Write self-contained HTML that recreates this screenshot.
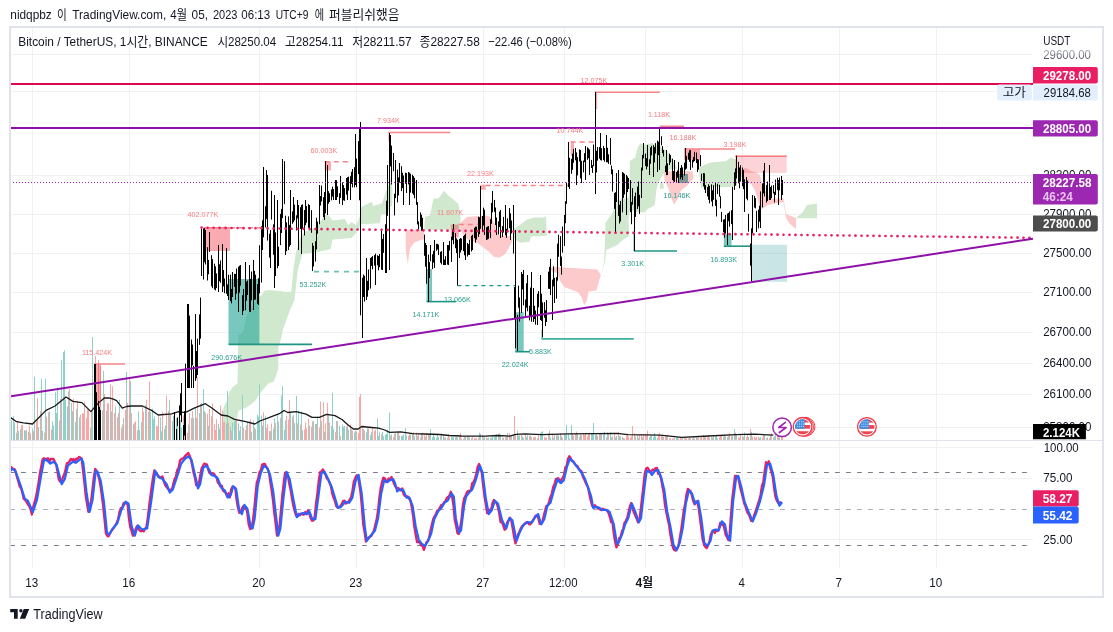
<!DOCTYPE html>
<html><head><meta charset="utf-8"><style>
html,body{margin:0;padding:0;background:#fff;width:1113px;height:632px;overflow:hidden}
svg{position:absolute;left:0;top:0;font-family:'Liberation Sans', 'Noto Sans CJK KR', sans-serif}
</style></head><body>
<svg width="1113" height="632" viewBox="0 0 1113 632">
<defs><clipPath id="mainclip"><rect x="11" y="28" width="1022" height="412"/></clipPath>
<clipPath id="oscclip"><rect x="11" y="441" width="1022" height="127"/></clipPath></defs>
<rect x="10" y="27" width="1093" height="570" fill="none" stroke="#e0e3eb" stroke-width="2"/>
<g clip-path="url(#mainclip)">
<rect x="32" y="28" width="1" height="541" fill="#eff1f3"/>
<rect x="129" y="28" width="1" height="541" fill="#eff1f3"/>
<rect x="259" y="28" width="1" height="541" fill="#eff1f3"/>
<rect x="356" y="28" width="1" height="541" fill="#eff1f3"/>
<rect x="483" y="28" width="1" height="541" fill="#eff1f3"/>
<rect x="564" y="28" width="1" height="541" fill="#eff1f3"/>
<rect x="645" y="28" width="1" height="541" fill="#eff1f3"/>
<rect x="742" y="28" width="1" height="541" fill="#eff1f3"/>
<rect x="839" y="28" width="1" height="541" fill="#eff1f3"/>
<rect x="936" y="28" width="1" height="541" fill="#eff1f3"/>
<rect x="11" y="54" width="1022" height="1" fill="#eff1f3"/>
<rect x="11" y="91" width="1022" height="1" fill="#eff1f3"/>
<rect x="11" y="128" width="1022" height="1" fill="#eff1f3"/>
<rect x="11" y="175" width="1022" height="1" fill="#eff1f3"/>
<rect x="11" y="214" width="1022" height="1" fill="#eff1f3"/>
<rect x="11" y="253" width="1022" height="1" fill="#eff1f3"/>
<rect x="11" y="292" width="1022" height="1" fill="#eff1f3"/>
<rect x="11" y="332" width="1022" height="1" fill="#eff1f3"/>
<rect x="11" y="363" width="1022" height="1" fill="#eff1f3"/>
<rect x="11" y="394" width="1022" height="1" fill="#eff1f3"/>
<rect x="11" y="427" width="1022" height="1" fill="#eff1f3"/>
<polygon points="224.0,440.0 223.3,429.3 222.4,418.7 223.3,408.0 226.8,401.0 229.5,392.0 233.0,386.7 237.5,383.2 238.4,335.0 243.0,332.0 246.0,317.0 255.0,302.0 259.0,297.0 262.0,295.0 264.0,291.0 269.0,290.0 280.0,291.0 285.0,291.7 291.3,291.7 293.7,266.4 296.0,252.2 300.8,236.4 305.6,231.6 316.6,226.9 324.5,215.8 327.7,214.2 332.4,220.6 345.0,219.0 348.2,225.3 351.4,222.1 356.1,225.3 360.1,215.8 360.9,207.9 362.0,206.6 368.8,203.2 372.0,202.1 373.2,206.0 382.0,203.2 385.4,193.3 388.8,185.0 391.0,177.0 392.5,190.0 392.0,205.0 386.5,214.3 381.0,214.3 380.0,223.2 360.0,224.3 359.3,228.5 354.6,234.8 351.4,238.0 332.4,239.5 330.8,249.0 316.6,252.2 302.4,253.8 297.6,271.0 294.5,300.0 290.0,310.0 285.0,324.0 282.7,330.0 281.0,338.9 278.3,347.7 278.3,369.0 273.8,381.4 268.5,383.2 259.6,393.8 255.2,401.0 250.8,404.5 245.5,408.0 238.4,410.7 236.6,422.2 234.0,429.3 231.3,436.4 229.5,442.0" fill="#cfe8ce"/>
<polygon points="405.7,229.8 424.2,229.8 424.2,239.5 421.4,239.8 414.2,242.6 410.0,248.3 407.8,264.0 405.7,250.0" fill="#fccaca"/>
<polygon points="424.2,229.8 425.0,217.0 430.0,215.6 433.5,198.5 438.4,198.5 444.0,190.7 448.4,195.7 454.0,200.0 458.4,204.2 460.5,215.6 460.5,229.8" fill="#cfe8ce"/>
<polygon points="460.5,222.7 467.0,217.0 476.9,216.3 485.4,215.6 491.0,217.0 494.0,222.7 499.6,235.5 511.0,236.2 512.0,240.0 511.7,242.6 505.3,254.0 499.6,257.6 494.0,256.9 488.3,251.2 482.6,247.0 476.9,242.6 468.3,239.8 462.6,234.0 460.5,229.8" fill="#fccaca"/>
<polygon points="513.7,229.0 515.4,227.9 520.7,224.4 527.6,219.2 534.6,217.4 543.0,217.4 546.0,216.5 546.8,235.7 531.0,236.6 529.4,241.8 520.7,242.7 515.4,240.0 513.7,236.0" fill="#cfe8ce"/>
<polygon points="550.3,268.0 556.0,267.0 597.3,269.6 600.8,274.9 596.4,290.5 588.6,291.4 586.8,301.0 584.2,305.3 581.6,297.5 578.1,292.3 564.2,287.0 560.7,281.8 557.2,273.0 552.0,271.4" fill="#fccaca"/>
<polygon points="601.0,275.0 604.0,262.0 604.7,250.0 605.5,222.8 612.7,213.0 615.8,200.6 629.0,197.5 630.0,161.0 635.2,157.5 637.9,146.9 640.5,143.3 644.0,145.0 652.0,143.0 660.0,146.0 668.0,152.0 677.0,168.5 666.0,170.0 661.0,178.0 658.3,182.3 656.5,189.4 654.7,205.3 647.6,208.9 644.0,212.4 637.0,212.0 630.0,210.0 628.5,219.6 629.3,235.4 620.6,241.8 617.4,245.0 606.3,250.0 605.0,262.0" fill="#cfe8ce"/>
<polygon points="660.0,182.7 663.0,181.0 664.0,188.4 660.0,189.0" fill="#cfe8ce"/>
<polygon points="664.0,171.3 670.0,171.3 692.8,171.3 693.5,178.4 688.5,184.0 685.6,187.0 681.4,189.8 677.0,199.8 674.2,204.8 671.4,198.4 668.5,188.4 664.5,180.0" fill="#fccaca"/>
<polygon points="699.0,168.0 705.6,164.2 711.3,162.5 717.0,162.0 722.7,161.5 726.0,161.0 731.0,157.5 737.0,160.0 737.0,185.6 731.2,187.0 717.0,187.0 707.0,187.7 701.3,187.7 699.5,180.0" fill="#cfe8ce"/>
<polygon points="737.0,172.7 739.8,171.3 745.5,167.7 751.2,171.3 756.9,172.7 759.7,175.0 763.0,187.5 768.0,195.0 770.0,198.5 783.5,198.5 786.0,214.0 796.0,218.0 796.0,229.0 790.0,224.0 786.0,218.0 783.5,202.0 768.0,205.0 762.0,209.0 759.7,207.0 755.4,191.3 751.2,184.0 745.5,181.0 737.0,172.7" fill="#fccaca"/>
<polygon points="796.0,218.0 803.0,212.0 807.0,205.0 817.0,203.5 817.0,218.3 796.0,218.3" fill="#cfe8ce"/>
<rect x="10" y="424.8" width="1" height="15.2" fill="#8fd0c8"/>
<rect x="11" y="420.2" width="1" height="19.8" fill="#8fd0c8"/>
<rect x="13" y="415.8" width="1" height="24.2" fill="#8fd0c8"/>
<rect x="14" y="422.4" width="1" height="17.6" fill="#8fd0c8"/>
<rect x="16" y="432.7" width="1" height="7.3" fill="#8fd0c8"/>
<rect x="17" y="420.9" width="1" height="19.1" fill="#f6a8a6"/>
<rect x="18" y="430.6" width="1" height="9.4" fill="#8fd0c8"/>
<rect x="20" y="429.0" width="1" height="11.0" fill="#8fd0c8"/>
<rect x="21" y="425.2" width="1" height="14.8" fill="#f6a8a6"/>
<rect x="22" y="424.9" width="1" height="15.1" fill="#f6a8a6"/>
<rect x="24" y="430.1" width="1" height="9.9" fill="#8fd0c8"/>
<rect x="25" y="430.6" width="1" height="9.4" fill="#8fd0c8"/>
<rect x="26" y="429.6" width="1" height="10.4" fill="#f6a8a6"/>
<rect x="28" y="431.6" width="1" height="8.4" fill="#8fd0c8"/>
<rect x="29" y="425.5" width="1" height="14.5" fill="#f6a8a6"/>
<rect x="30" y="433.3" width="1" height="6.7" fill="#f6a8a6"/>
<rect x="32" y="428.6" width="1" height="11.4" fill="#8fd0c8"/>
<rect x="33" y="431.2" width="1" height="8.8" fill="#f6a8a6"/>
<rect x="34" y="376.7" width="1" height="63.3" fill="#8fd0c8"/>
<rect x="36" y="419.2" width="1" height="20.8" fill="#f6a8a6"/>
<rect x="37" y="398.0" width="1" height="42.0" fill="#f6a8a6"/>
<rect x="38" y="427.2" width="1" height="12.8" fill="#8fd0c8"/>
<rect x="40" y="411.0" width="1" height="29.0" fill="#f6a8a6"/>
<rect x="41" y="378.7" width="1" height="61.3" fill="#8fd0c8"/>
<rect x="42" y="431.0" width="1" height="9.0" fill="#8fd0c8"/>
<rect x="44" y="432.6" width="1" height="7.4" fill="#f6a8a6"/>
<rect x="45" y="378.5" width="1" height="61.5" fill="#8fd0c8"/>
<rect x="46" y="416.5" width="1" height="23.5" fill="#f6a8a6"/>
<rect x="48" y="412.2" width="1" height="27.8" fill="#f6a8a6"/>
<rect x="49" y="411.3" width="1" height="28.7" fill="#8fd0c8"/>
<rect x="51" y="429.3" width="1" height="10.7" fill="#f6a8a6"/>
<rect x="52" y="421.3" width="1" height="18.7" fill="#8fd0c8"/>
<rect x="53" y="425.5" width="1" height="14.5" fill="#8fd0c8"/>
<rect x="55" y="392.3" width="1" height="47.7" fill="#8fd0c8"/>
<rect x="56" y="413.0" width="1" height="27.0" fill="#8fd0c8"/>
<rect x="57" y="387.5" width="1" height="52.5" fill="#8fd0c8"/>
<rect x="59" y="420.7" width="1" height="19.3" fill="#f6a8a6"/>
<rect x="60" y="398.8" width="1" height="41.2" fill="#f6a8a6"/>
<rect x="61" y="360.0" width="1" height="80.0" fill="#8fd0c8"/>
<rect x="63" y="352.0" width="1" height="88.0" fill="#8fd0c8"/>
<rect x="64" y="350.4" width="1" height="89.6" fill="#8fd0c8"/>
<rect x="65" y="399.5" width="1" height="40.5" fill="#8fd0c8"/>
<rect x="67" y="406.5" width="1" height="33.5" fill="#8fd0c8"/>
<rect x="68" y="391.4" width="1" height="48.6" fill="#8fd0c8"/>
<rect x="69" y="388.7" width="1" height="51.3" fill="#f6a8a6"/>
<rect x="71" y="402.9" width="1" height="37.1" fill="#8fd0c8"/>
<rect x="72" y="411.2" width="1" height="28.8" fill="#8fd0c8"/>
<rect x="73" y="398.7" width="1" height="41.3" fill="#f6a8a6"/>
<rect x="75" y="421.9" width="1" height="18.1" fill="#8fd0c8"/>
<rect x="76" y="408.8" width="1" height="31.2" fill="#8fd0c8"/>
<rect x="77" y="400.6" width="1" height="39.4" fill="#f6a8a6"/>
<rect x="79" y="417.3" width="1" height="22.7" fill="#8fd0c8"/>
<rect x="80" y="414.5" width="1" height="25.5" fill="#f6a8a6"/>
<rect x="82" y="412.9" width="1" height="27.1" fill="#f6a8a6"/>
<rect x="83" y="413.7" width="1" height="26.3" fill="#f6a8a6"/>
<rect x="84" y="401.9" width="1" height="38.1" fill="#f6a8a6"/>
<rect x="86" y="418.2" width="1" height="21.8" fill="#f6a8a6"/>
<rect x="87" y="409.2" width="1" height="30.8" fill="#f6a8a6"/>
<rect x="88" y="409.8" width="1" height="30.2" fill="#f6a8a6"/>
<rect x="90" y="427.9" width="1" height="12.1" fill="#8fd0c8"/>
<rect x="91" y="411.0" width="1" height="29.0" fill="#f6a8a6"/>
<rect x="92" y="337.0" width="1" height="103.0" fill="#8fd0c8"/>
<rect x="94" y="379.7" width="1" height="60.3" fill="#8fd0c8"/>
<rect x="95" y="356.0" width="1" height="84.0" fill="#f6a8a6"/>
<rect x="96" y="411.7" width="1" height="28.3" fill="#f6a8a6"/>
<rect x="98" y="360.0" width="1" height="80.0" fill="#f6a8a6"/>
<rect x="99" y="421.6" width="1" height="18.4" fill="#f6a8a6"/>
<rect x="100" y="366.0" width="1" height="74.0" fill="#f6a8a6"/>
<rect x="102" y="410.5" width="1" height="29.5" fill="#f6a8a6"/>
<rect x="103" y="370.8" width="1" height="69.2" fill="#8fd0c8"/>
<rect x="104" y="393.8" width="1" height="46.2" fill="#f6a8a6"/>
<rect x="106" y="411.0" width="1" height="29.0" fill="#8fd0c8"/>
<rect x="107" y="403.4" width="1" height="36.6" fill="#f6a8a6"/>
<rect x="108" y="403.2" width="1" height="36.8" fill="#f6a8a6"/>
<rect x="110" y="384.5" width="1" height="55.5" fill="#f6a8a6"/>
<rect x="111" y="411.4" width="1" height="28.6" fill="#8fd0c8"/>
<rect x="112" y="386.2" width="1" height="53.8" fill="#f6a8a6"/>
<rect x="114" y="413.0" width="1" height="27.0" fill="#f6a8a6"/>
<rect x="115" y="406.4" width="1" height="33.6" fill="#8fd0c8"/>
<rect x="117" y="417.2" width="1" height="22.8" fill="#f6a8a6"/>
<rect x="118" y="412.8" width="1" height="27.2" fill="#f6a8a6"/>
<rect x="119" y="399.8" width="1" height="40.2" fill="#8fd0c8"/>
<rect x="121" y="428.1" width="1" height="11.9" fill="#f6a8a6"/>
<rect x="122" y="424.5" width="1" height="15.5" fill="#f6a8a6"/>
<rect x="123" y="417.9" width="1" height="22.1" fill="#8fd0c8"/>
<rect x="125" y="410.0" width="1" height="30.0" fill="#f6a8a6"/>
<rect x="126" y="372.0" width="1" height="68.0" fill="#8fd0c8"/>
<rect x="127" y="402.9" width="1" height="37.1" fill="#f6a8a6"/>
<rect x="129" y="378.0" width="1" height="62.0" fill="#f6a8a6"/>
<rect x="130" y="381.0" width="1" height="59.0" fill="#8fd0c8"/>
<rect x="131" y="413.1" width="1" height="26.9" fill="#f6a8a6"/>
<rect x="133" y="424.3" width="1" height="15.7" fill="#8fd0c8"/>
<rect x="134" y="422.4" width="1" height="17.6" fill="#f6a8a6"/>
<rect x="135" y="421.5" width="1" height="18.5" fill="#f6a8a6"/>
<rect x="137" y="430.2" width="1" height="9.8" fill="#f6a8a6"/>
<rect x="138" y="411.3" width="1" height="28.7" fill="#8fd0c8"/>
<rect x="139" y="429.7" width="1" height="10.3" fill="#8fd0c8"/>
<rect x="141" y="422.3" width="1" height="17.7" fill="#8fd0c8"/>
<rect x="142" y="407.1" width="1" height="32.9" fill="#f6a8a6"/>
<rect x="143" y="411.7" width="1" height="28.3" fill="#f6a8a6"/>
<rect x="145" y="405.2" width="1" height="34.8" fill="#8fd0c8"/>
<rect x="146" y="399.7" width="1" height="40.3" fill="#f6a8a6"/>
<rect x="148" y="411.8" width="1" height="28.2" fill="#8fd0c8"/>
<rect x="149" y="381.3" width="1" height="58.7" fill="#f6a8a6"/>
<rect x="150" y="412.0" width="1" height="28.0" fill="#8fd0c8"/>
<rect x="152" y="408.6" width="1" height="31.4" fill="#8fd0c8"/>
<rect x="153" y="419.1" width="1" height="20.9" fill="#8fd0c8"/>
<rect x="154" y="416.3" width="1" height="23.7" fill="#8fd0c8"/>
<rect x="156" y="425.9" width="1" height="14.1" fill="#f6a8a6"/>
<rect x="157" y="426.3" width="1" height="13.7" fill="#f6a8a6"/>
<rect x="158" y="416.2" width="1" height="23.8" fill="#f6a8a6"/>
<rect x="160" y="417.4" width="1" height="22.6" fill="#8fd0c8"/>
<rect x="161" y="431.4" width="1" height="8.6" fill="#8fd0c8"/>
<rect x="162" y="411.6" width="1" height="28.4" fill="#f6a8a6"/>
<rect x="164" y="429.2" width="1" height="10.8" fill="#8fd0c8"/>
<rect x="165" y="425.5" width="1" height="14.5" fill="#8fd0c8"/>
<rect x="166" y="395.5" width="1" height="44.5" fill="#f6a8a6"/>
<rect x="168" y="411.0" width="1" height="29.0" fill="#f6a8a6"/>
<rect x="169" y="400.1" width="1" height="39.9" fill="#8fd0c8"/>
<rect x="170" y="413.3" width="1" height="26.7" fill="#f6a8a6"/>
<rect x="172" y="421.0" width="1" height="19.0" fill="#8fd0c8"/>
<rect x="173" y="415.7" width="1" height="24.3" fill="#8fd0c8"/>
<rect x="174" y="414.1" width="1" height="25.9" fill="#8fd0c8"/>
<rect x="176" y="417.8" width="1" height="22.2" fill="#8fd0c8"/>
<rect x="177" y="423.9" width="1" height="16.1" fill="#8fd0c8"/>
<rect x="179" y="419.0" width="1" height="21.0" fill="#8fd0c8"/>
<rect x="180" y="420.2" width="1" height="19.8" fill="#8fd0c8"/>
<rect x="181" y="427.5" width="1" height="12.5" fill="#8fd0c8"/>
<rect x="183" y="415.4" width="1" height="24.6" fill="#f6a8a6"/>
<rect x="184" y="426.1" width="1" height="13.9" fill="#f6a8a6"/>
<rect x="185" y="426.9" width="1" height="13.1" fill="#f6a8a6"/>
<rect x="187" y="432.8" width="1" height="7.2" fill="#f6a8a6"/>
<rect x="188" y="424.4" width="1" height="15.6" fill="#8fd0c8"/>
<rect x="189" y="413.2" width="1" height="26.8" fill="#f6a8a6"/>
<rect x="191" y="418.0" width="1" height="22.0" fill="#f6a8a6"/>
<rect x="192" y="411.1" width="1" height="28.9" fill="#f6a8a6"/>
<rect x="193" y="418.1" width="1" height="21.9" fill="#8fd0c8"/>
<rect x="195" y="408.3" width="1" height="31.7" fill="#8fd0c8"/>
<rect x="196" y="417.9" width="1" height="22.1" fill="#f6a8a6"/>
<rect x="197" y="377.2" width="1" height="62.8" fill="#f6a8a6"/>
<rect x="199" y="412.9" width="1" height="27.1" fill="#8fd0c8"/>
<rect x="200" y="404.1" width="1" height="35.9" fill="#f6a8a6"/>
<rect x="201" y="402.9" width="1" height="37.1" fill="#8fd0c8"/>
<rect x="203" y="389.0" width="1" height="51.0" fill="#8fd0c8"/>
<rect x="204" y="411.2" width="1" height="28.8" fill="#8fd0c8"/>
<rect x="205" y="412.5" width="1" height="27.5" fill="#f6a8a6"/>
<rect x="207" y="413.7" width="1" height="26.3" fill="#f6a8a6"/>
<rect x="208" y="425.8" width="1" height="14.2" fill="#8fd0c8"/>
<rect x="209" y="408.8" width="1" height="31.2" fill="#f6a8a6"/>
<rect x="211" y="416.3" width="1" height="23.7" fill="#f6a8a6"/>
<rect x="212" y="403.5" width="1" height="36.5" fill="#f6a8a6"/>
<rect x="214" y="424.0" width="1" height="16.0" fill="#f6a8a6"/>
<rect x="215" y="429.7" width="1" height="10.3" fill="#f6a8a6"/>
<rect x="216" y="419.2" width="1" height="20.8" fill="#f6a8a6"/>
<rect x="218" y="424.0" width="1" height="16.0" fill="#8fd0c8"/>
<rect x="219" y="428.7" width="1" height="11.3" fill="#8fd0c8"/>
<rect x="220" y="405.4" width="1" height="34.6" fill="#f6a8a6"/>
<rect x="222" y="410.6" width="1" height="29.4" fill="#f6a8a6"/>
<rect x="223" y="422.3" width="1" height="17.7" fill="#f6a8a6"/>
<rect x="224" y="421.8" width="1" height="18.2" fill="#f6a8a6"/>
<rect x="226" y="423.4" width="1" height="16.6" fill="#8fd0c8"/>
<rect x="227" y="391.0" width="1" height="49.0" fill="#8fd0c8"/>
<rect x="228" y="423.0" width="1" height="17.0" fill="#f6a8a6"/>
<rect x="230" y="426.9" width="1" height="13.1" fill="#8fd0c8"/>
<rect x="231" y="430.9" width="1" height="9.1" fill="#f6a8a6"/>
<rect x="232" y="422.6" width="1" height="17.4" fill="#8fd0c8"/>
<rect x="234" y="421.3" width="1" height="18.7" fill="#8fd0c8"/>
<rect x="235" y="420.6" width="1" height="19.4" fill="#8fd0c8"/>
<rect x="236" y="419.9" width="1" height="20.1" fill="#f6a8a6"/>
<rect x="238" y="423.4" width="1" height="16.6" fill="#8fd0c8"/>
<rect x="239" y="430.7" width="1" height="9.3" fill="#8fd0c8"/>
<rect x="240" y="426.3" width="1" height="13.7" fill="#8fd0c8"/>
<rect x="242" y="395.1" width="1" height="44.9" fill="#8fd0c8"/>
<rect x="243" y="427.7" width="1" height="12.3" fill="#f6a8a6"/>
<rect x="245" y="429.8" width="1" height="10.2" fill="#f6a8a6"/>
<rect x="246" y="425.0" width="1" height="15.0" fill="#f6a8a6"/>
<rect x="247" y="421.9" width="1" height="18.1" fill="#8fd0c8"/>
<rect x="249" y="421.0" width="1" height="19.0" fill="#f6a8a6"/>
<rect x="250" y="419.5" width="1" height="20.5" fill="#f6a8a6"/>
<rect x="251" y="431.7" width="1" height="8.3" fill="#8fd0c8"/>
<rect x="253" y="420.5" width="1" height="19.5" fill="#8fd0c8"/>
<rect x="254" y="427.9" width="1" height="12.1" fill="#8fd0c8"/>
<rect x="255" y="428.9" width="1" height="11.1" fill="#f6a8a6"/>
<rect x="257" y="414.5" width="1" height="25.5" fill="#8fd0c8"/>
<rect x="258" y="416.7" width="1" height="23.3" fill="#8fd0c8"/>
<rect x="259" y="384.6" width="1" height="55.4" fill="#8fd0c8"/>
<rect x="261" y="415.6" width="1" height="24.4" fill="#8fd0c8"/>
<rect x="262" y="425.4" width="1" height="14.6" fill="#8fd0c8"/>
<rect x="263" y="412.3" width="1" height="27.7" fill="#f6a8a6"/>
<rect x="265" y="415.7" width="1" height="24.3" fill="#8fd0c8"/>
<rect x="266" y="427.8" width="1" height="12.2" fill="#f6a8a6"/>
<rect x="267" y="424.1" width="1" height="15.9" fill="#f6a8a6"/>
<rect x="269" y="430.9" width="1" height="9.1" fill="#f6a8a6"/>
<rect x="270" y="431.1" width="1" height="8.9" fill="#8fd0c8"/>
<rect x="271" y="423.5" width="1" height="16.5" fill="#f6a8a6"/>
<rect x="273" y="428.5" width="1" height="11.5" fill="#8fd0c8"/>
<rect x="274" y="418.2" width="1" height="21.8" fill="#8fd0c8"/>
<rect x="275" y="423.2" width="1" height="16.8" fill="#f6a8a6"/>
<rect x="277" y="414.4" width="1" height="25.6" fill="#8fd0c8"/>
<rect x="278" y="421.7" width="1" height="18.3" fill="#8fd0c8"/>
<rect x="280" y="417.9" width="1" height="22.1" fill="#f6a8a6"/>
<rect x="281" y="395.5" width="1" height="44.5" fill="#8fd0c8"/>
<rect x="282" y="386.3" width="1" height="53.7" fill="#8fd0c8"/>
<rect x="284" y="429.8" width="1" height="10.2" fill="#8fd0c8"/>
<rect x="285" y="420.4" width="1" height="19.6" fill="#8fd0c8"/>
<rect x="286" y="415.7" width="1" height="24.3" fill="#f6a8a6"/>
<rect x="288" y="419.6" width="1" height="20.4" fill="#f6a8a6"/>
<rect x="289" y="400.0" width="1" height="40.0" fill="#f6a8a6"/>
<rect x="290" y="412.3" width="1" height="27.7" fill="#8fd0c8"/>
<rect x="292" y="416.7" width="1" height="23.3" fill="#f6a8a6"/>
<rect x="293" y="415.1" width="1" height="24.9" fill="#8fd0c8"/>
<rect x="294" y="423.1" width="1" height="16.9" fill="#8fd0c8"/>
<rect x="296" y="395.9" width="1" height="44.1" fill="#8fd0c8"/>
<rect x="297" y="423.3" width="1" height="16.7" fill="#f6a8a6"/>
<rect x="298" y="410.6" width="1" height="29.4" fill="#8fd0c8"/>
<rect x="300" y="424.6" width="1" height="15.4" fill="#f6a8a6"/>
<rect x="301" y="411.3" width="1" height="28.7" fill="#8fd0c8"/>
<rect x="302" y="430.2" width="1" height="9.8" fill="#8fd0c8"/>
<rect x="304" y="429.3" width="1" height="10.7" fill="#f6a8a6"/>
<rect x="305" y="422.3" width="1" height="17.7" fill="#f6a8a6"/>
<rect x="306" y="428.4" width="1" height="11.6" fill="#f6a8a6"/>
<rect x="308" y="418.9" width="1" height="21.1" fill="#f6a8a6"/>
<rect x="309" y="425.5" width="1" height="14.5" fill="#8fd0c8"/>
<rect x="311" y="426.7" width="1" height="13.3" fill="#f6a8a6"/>
<rect x="312" y="421.1" width="1" height="18.9" fill="#f6a8a6"/>
<rect x="313" y="421.4" width="1" height="18.6" fill="#8fd0c8"/>
<rect x="315" y="424.0" width="1" height="16.0" fill="#8fd0c8"/>
<rect x="316" y="423.8" width="1" height="16.2" fill="#f6a8a6"/>
<rect x="317" y="416.4" width="1" height="23.6" fill="#8fd0c8"/>
<rect x="319" y="427.6" width="1" height="12.4" fill="#f6a8a6"/>
<rect x="320" y="401.5" width="1" height="38.5" fill="#f6a8a6"/>
<rect x="321" y="421.2" width="1" height="18.8" fill="#8fd0c8"/>
<rect x="323" y="402.0" width="1" height="38.0" fill="#f6a8a6"/>
<rect x="324" y="431.7" width="1" height="8.3" fill="#8fd0c8"/>
<rect x="325" y="423.3" width="1" height="16.7" fill="#f6a8a6"/>
<rect x="327" y="403.0" width="1" height="37.0" fill="#f6a8a6"/>
<rect x="328" y="413.6" width="1" height="26.4" fill="#8fd0c8"/>
<rect x="329" y="422.5" width="1" height="17.5" fill="#f6a8a6"/>
<rect x="331" y="425.9" width="1" height="14.1" fill="#8fd0c8"/>
<rect x="332" y="392.8" width="1" height="47.2" fill="#8fd0c8"/>
<rect x="333" y="428.9" width="1" height="11.1" fill="#8fd0c8"/>
<rect x="335" y="432.2" width="1" height="7.8" fill="#f6a8a6"/>
<rect x="336" y="420.9" width="1" height="19.1" fill="#8fd0c8"/>
<rect x="337" y="421.1" width="1" height="18.9" fill="#f6a8a6"/>
<rect x="339" y="425.8" width="1" height="14.2" fill="#8fd0c8"/>
<rect x="340" y="436.0" width="1" height="4.0" fill="#f6a8a6"/>
<rect x="342" y="424.7" width="1" height="15.3" fill="#8fd0c8"/>
<rect x="343" y="426.8" width="1" height="13.2" fill="#8fd0c8"/>
<rect x="344" y="426.0" width="1" height="14.0" fill="#8fd0c8"/>
<rect x="346" y="426.8" width="1" height="13.2" fill="#8fd0c8"/>
<rect x="347" y="424.5" width="1" height="15.5" fill="#f6a8a6"/>
<rect x="348" y="429.6" width="1" height="10.4" fill="#8fd0c8"/>
<rect x="350" y="424.3" width="1" height="15.7" fill="#f6a8a6"/>
<rect x="351" y="429.1" width="1" height="10.9" fill="#8fd0c8"/>
<rect x="352" y="430.6" width="1" height="9.4" fill="#f6a8a6"/>
<rect x="354" y="432.3" width="1" height="7.7" fill="#8fd0c8"/>
<rect x="355" y="430.6" width="1" height="9.4" fill="#8fd0c8"/>
<rect x="356" y="431.6" width="1" height="8.4" fill="#f6a8a6"/>
<rect x="358" y="433.1" width="1" height="6.9" fill="#f6a8a6"/>
<rect x="359" y="396.7" width="1" height="43.3" fill="#f6a8a6"/>
<rect x="360" y="394.0" width="1" height="46.0" fill="#f6a8a6"/>
<rect x="362" y="426.6" width="1" height="13.4" fill="#f6a8a6"/>
<rect x="363" y="429.2" width="1" height="10.8" fill="#8fd0c8"/>
<rect x="364" y="430.5" width="1" height="9.5" fill="#f6a8a6"/>
<rect x="366" y="432.3" width="1" height="7.7" fill="#8fd0c8"/>
<rect x="367" y="428.3" width="1" height="11.7" fill="#8fd0c8"/>
<rect x="368" y="428.3" width="1" height="11.7" fill="#f6a8a6"/>
<rect x="370" y="435.0" width="1" height="5.0" fill="#8fd0c8"/>
<rect x="371" y="432.1" width="1" height="7.9" fill="#8fd0c8"/>
<rect x="372" y="427.1" width="1" height="12.9" fill="#f6a8a6"/>
<rect x="374" y="430.9" width="1" height="9.1" fill="#f6a8a6"/>
<rect x="375" y="429.6" width="1" height="10.4" fill="#f6a8a6"/>
<rect x="377" y="418.5" width="1" height="21.5" fill="#8fd0c8"/>
<rect x="378" y="436.0" width="1" height="4.0" fill="#8fd0c8"/>
<rect x="379" y="432.3" width="1" height="7.7" fill="#8fd0c8"/>
<rect x="381" y="434.5" width="1" height="5.5" fill="#f6a8a6"/>
<rect x="382" y="432.0" width="1" height="8.0" fill="#8fd0c8"/>
<rect x="383" y="436.4" width="1" height="3.6" fill="#8fd0c8"/>
<rect x="385" y="434.8" width="1" height="5.2" fill="#8fd0c8"/>
<rect x="386" y="434.0" width="1" height="6.0" fill="#8fd0c8"/>
<rect x="387" y="429.5" width="1" height="10.5" fill="#8fd0c8"/>
<rect x="389" y="412.5" width="1" height="27.5" fill="#8fd0c8"/>
<rect x="390" y="435.7" width="1" height="4.3" fill="#f6a8a6"/>
<rect x="391" y="434.3" width="1" height="5.7" fill="#8fd0c8"/>
<rect x="393" y="437.2" width="1" height="2.8" fill="#f6a8a6"/>
<rect x="394" y="433.5" width="1" height="6.5" fill="#8fd0c8"/>
<rect x="395" y="432.9" width="1" height="7.1" fill="#f6a8a6"/>
<rect x="397" y="433.0" width="1" height="7.0" fill="#8fd0c8"/>
<rect x="398" y="432.1" width="1" height="7.9" fill="#f6a8a6"/>
<rect x="399" y="435.7" width="1" height="4.3" fill="#8fd0c8"/>
<rect x="401" y="436.2" width="1" height="3.8" fill="#8fd0c8"/>
<rect x="402" y="435.7" width="1" height="4.3" fill="#8fd0c8"/>
<rect x="403" y="434.4" width="1" height="5.6" fill="#8fd0c8"/>
<rect x="405" y="428.1" width="1" height="11.9" fill="#8fd0c8"/>
<rect x="406" y="435.2" width="1" height="4.8" fill="#8fd0c8"/>
<rect x="408" y="435.8" width="1" height="4.2" fill="#f6a8a6"/>
<rect x="409" y="433.9" width="1" height="6.1" fill="#f6a8a6"/>
<rect x="410" y="434.6" width="1" height="5.4" fill="#8fd0c8"/>
<rect x="412" y="433.3" width="1" height="6.7" fill="#8fd0c8"/>
<rect x="413" y="432.0" width="1" height="8.0" fill="#f6a8a6"/>
<rect x="414" y="436.1" width="1" height="3.9" fill="#8fd0c8"/>
<rect x="416" y="432.5" width="1" height="7.5" fill="#f6a8a6"/>
<rect x="417" y="436.1" width="1" height="3.9" fill="#8fd0c8"/>
<rect x="418" y="433.0" width="1" height="7.0" fill="#f6a8a6"/>
<rect x="420" y="437.6" width="1" height="2.4" fill="#f6a8a6"/>
<rect x="421" y="433.6" width="1" height="6.4" fill="#8fd0c8"/>
<rect x="422" y="432.5" width="1" height="7.5" fill="#f6a8a6"/>
<rect x="424" y="435.3" width="1" height="4.7" fill="#f6a8a6"/>
<rect x="425" y="436.8" width="1" height="3.2" fill="#8fd0c8"/>
<rect x="426" y="433.8" width="1" height="6.2" fill="#f6a8a6"/>
<rect x="428" y="433.7" width="1" height="6.3" fill="#f6a8a6"/>
<rect x="429" y="434.2" width="1" height="5.8" fill="#8fd0c8"/>
<rect x="430" y="429.0" width="1" height="11.0" fill="#8fd0c8"/>
<rect x="432" y="437.1" width="1" height="2.9" fill="#8fd0c8"/>
<rect x="433" y="433.3" width="1" height="6.7" fill="#8fd0c8"/>
<rect x="434" y="436.9" width="1" height="3.1" fill="#8fd0c8"/>
<rect x="436" y="437.8" width="1" height="2.2" fill="#8fd0c8"/>
<rect x="437" y="433.6" width="1" height="6.4" fill="#8fd0c8"/>
<rect x="438" y="437.2" width="1" height="2.8" fill="#8fd0c8"/>
<rect x="440" y="436.1" width="1" height="3.9" fill="#f6a8a6"/>
<rect x="441" y="433.5" width="1" height="6.5" fill="#8fd0c8"/>
<rect x="443" y="435.6" width="1" height="4.4" fill="#8fd0c8"/>
<rect x="444" y="437.5" width="1" height="2.5" fill="#8fd0c8"/>
<rect x="445" y="437.3" width="1" height="2.7" fill="#f6a8a6"/>
<rect x="447" y="437.9" width="1" height="2.1" fill="#8fd0c8"/>
<rect x="448" y="434.4" width="1" height="5.6" fill="#f6a8a6"/>
<rect x="449" y="437.5" width="1" height="2.5" fill="#f6a8a6"/>
<rect x="451" y="436.6" width="1" height="3.4" fill="#8fd0c8"/>
<rect x="452" y="437.3" width="1" height="2.7" fill="#8fd0c8"/>
<rect x="453" y="436.7" width="1" height="3.3" fill="#8fd0c8"/>
<rect x="455" y="437.2" width="1" height="2.8" fill="#8fd0c8"/>
<rect x="456" y="436.9" width="1" height="3.1" fill="#f6a8a6"/>
<rect x="457" y="437.3" width="1" height="2.7" fill="#8fd0c8"/>
<rect x="459" y="437.0" width="1" height="3.0" fill="#8fd0c8"/>
<rect x="460" y="433.1" width="1" height="6.9" fill="#f6a8a6"/>
<rect x="461" y="438.5" width="1" height="1.5" fill="#f6a8a6"/>
<rect x="463" y="438.5" width="1" height="1.5" fill="#8fd0c8"/>
<rect x="464" y="436.9" width="1" height="3.1" fill="#f6a8a6"/>
<rect x="465" y="435.9" width="1" height="4.1" fill="#8fd0c8"/>
<rect x="467" y="436.6" width="1" height="3.4" fill="#8fd0c8"/>
<rect x="468" y="436.8" width="1" height="3.2" fill="#f6a8a6"/>
<rect x="469" y="437.6" width="1" height="2.4" fill="#8fd0c8"/>
<rect x="471" y="438.0" width="1" height="2.0" fill="#8fd0c8"/>
<rect x="472" y="437.1" width="1" height="2.9" fill="#f6a8a6"/>
<rect x="474" y="438.0" width="1" height="2.0" fill="#f6a8a6"/>
<rect x="475" y="438.5" width="1" height="1.5" fill="#f6a8a6"/>
<rect x="476" y="437.8" width="1" height="2.2" fill="#f6a8a6"/>
<rect x="478" y="437.8" width="1" height="2.2" fill="#f6a8a6"/>
<rect x="479" y="432.7" width="1" height="7.3" fill="#8fd0c8"/>
<rect x="480" y="433.9" width="1" height="6.1" fill="#8fd0c8"/>
<rect x="482" y="435.2" width="1" height="4.8" fill="#f6a8a6"/>
<rect x="483" y="437.3" width="1" height="2.7" fill="#8fd0c8"/>
<rect x="484" y="437.2" width="1" height="2.8" fill="#8fd0c8"/>
<rect x="486" y="437.5" width="1" height="2.5" fill="#f6a8a6"/>
<rect x="487" y="438.3" width="1" height="1.7" fill="#8fd0c8"/>
<rect x="488" y="437.8" width="1" height="2.2" fill="#8fd0c8"/>
<rect x="490" y="437.8" width="1" height="2.2" fill="#f6a8a6"/>
<rect x="491" y="437.7" width="1" height="2.3" fill="#8fd0c8"/>
<rect x="492" y="436.3" width="1" height="3.7" fill="#8fd0c8"/>
<rect x="494" y="437.0" width="1" height="3.0" fill="#8fd0c8"/>
<rect x="495" y="436.5" width="1" height="3.5" fill="#8fd0c8"/>
<rect x="496" y="434.5" width="1" height="5.5" fill="#8fd0c8"/>
<rect x="498" y="433.8" width="1" height="6.2" fill="#8fd0c8"/>
<rect x="499" y="433.4" width="1" height="6.6" fill="#f6a8a6"/>
<rect x="500" y="434.8" width="1" height="5.2" fill="#8fd0c8"/>
<rect x="502" y="437.6" width="1" height="2.4" fill="#f6a8a6"/>
<rect x="503" y="437.8" width="1" height="2.2" fill="#8fd0c8"/>
<rect x="505" y="437.4" width="1" height="2.6" fill="#f6a8a6"/>
<rect x="506" y="437.0" width="1" height="3.0" fill="#f6a8a6"/>
<rect x="507" y="433.1" width="1" height="6.9" fill="#8fd0c8"/>
<rect x="509" y="433.1" width="1" height="6.9" fill="#f6a8a6"/>
<rect x="510" y="436.3" width="1" height="3.7" fill="#8fd0c8"/>
<rect x="511" y="436.2" width="1" height="3.8" fill="#f6a8a6"/>
<rect x="513" y="434.1" width="1" height="5.9" fill="#8fd0c8"/>
<rect x="514" y="416.0" width="1" height="24.0" fill="#f6a8a6"/>
<rect x="515" y="434.4" width="1" height="5.6" fill="#f6a8a6"/>
<rect x="517" y="430.8" width="1" height="9.2" fill="#8fd0c8"/>
<rect x="518" y="435.6" width="1" height="4.4" fill="#8fd0c8"/>
<rect x="519" y="435.5" width="1" height="4.5" fill="#8fd0c8"/>
<rect x="521" y="434.7" width="1" height="5.3" fill="#f6a8a6"/>
<rect x="522" y="436.6" width="1" height="3.4" fill="#8fd0c8"/>
<rect x="523" y="437.8" width="1" height="2.2" fill="#8fd0c8"/>
<rect x="525" y="434.9" width="1" height="5.1" fill="#f6a8a6"/>
<rect x="526" y="437.2" width="1" height="2.8" fill="#8fd0c8"/>
<rect x="527" y="435.3" width="1" height="4.7" fill="#8fd0c8"/>
<rect x="529" y="435.8" width="1" height="4.2" fill="#f6a8a6"/>
<rect x="530" y="435.6" width="1" height="4.4" fill="#8fd0c8"/>
<rect x="531" y="437.0" width="1" height="3.0" fill="#f6a8a6"/>
<rect x="533" y="437.2" width="1" height="2.8" fill="#f6a8a6"/>
<rect x="534" y="437.3" width="1" height="2.7" fill="#f6a8a6"/>
<rect x="535" y="436.8" width="1" height="3.2" fill="#f6a8a6"/>
<rect x="537" y="438.0" width="1" height="2.0" fill="#8fd0c8"/>
<rect x="538" y="435.4" width="1" height="4.6" fill="#f6a8a6"/>
<rect x="540" y="433.1" width="1" height="6.9" fill="#8fd0c8"/>
<rect x="541" y="431.9" width="1" height="8.1" fill="#8fd0c8"/>
<rect x="542" y="431.3" width="1" height="8.7" fill="#8fd0c8"/>
<rect x="544" y="436.7" width="1" height="3.3" fill="#f6a8a6"/>
<rect x="545" y="437.6" width="1" height="2.4" fill="#f6a8a6"/>
<rect x="546" y="437.5" width="1" height="2.5" fill="#f6a8a6"/>
<rect x="548" y="432.9" width="1" height="7.1" fill="#f6a8a6"/>
<rect x="549" y="430.7" width="1" height="9.3" fill="#8fd0c8"/>
<rect x="550" y="437.5" width="1" height="2.5" fill="#8fd0c8"/>
<rect x="552" y="433.7" width="1" height="6.3" fill="#f6a8a6"/>
<rect x="553" y="437.7" width="1" height="2.3" fill="#8fd0c8"/>
<rect x="554" y="435.1" width="1" height="4.9" fill="#8fd0c8"/>
<rect x="556" y="435.3" width="1" height="4.7" fill="#8fd0c8"/>
<rect x="557" y="434.2" width="1" height="5.8" fill="#f6a8a6"/>
<rect x="558" y="435.5" width="1" height="4.5" fill="#8fd0c8"/>
<rect x="560" y="433.1" width="1" height="6.9" fill="#f6a8a6"/>
<rect x="561" y="436.1" width="1" height="3.9" fill="#8fd0c8"/>
<rect x="562" y="437.7" width="1" height="2.3" fill="#f6a8a6"/>
<rect x="564" y="434.2" width="1" height="5.8" fill="#8fd0c8"/>
<rect x="565" y="435.0" width="1" height="5.0" fill="#8fd0c8"/>
<rect x="566" y="425.0" width="1" height="15.0" fill="#8fd0c8"/>
<rect x="568" y="433.9" width="1" height="6.1" fill="#8fd0c8"/>
<rect x="569" y="438.5" width="1" height="1.5" fill="#f6a8a6"/>
<rect x="571" y="425.0" width="1" height="15.0" fill="#8fd0c8"/>
<rect x="572" y="433.0" width="1" height="7.0" fill="#f6a8a6"/>
<rect x="573" y="435.7" width="1" height="4.3" fill="#8fd0c8"/>
<rect x="575" y="434.0" width="1" height="6.0" fill="#f6a8a6"/>
<rect x="576" y="431.5" width="1" height="8.5" fill="#f6a8a6"/>
<rect x="577" y="433.5" width="1" height="6.5" fill="#8fd0c8"/>
<rect x="579" y="436.7" width="1" height="3.3" fill="#8fd0c8"/>
<rect x="580" y="434.2" width="1" height="5.8" fill="#8fd0c8"/>
<rect x="581" y="435.0" width="1" height="5.0" fill="#f6a8a6"/>
<rect x="583" y="433.7" width="1" height="6.3" fill="#f6a8a6"/>
<rect x="584" y="435.1" width="1" height="4.9" fill="#f6a8a6"/>
<rect x="585" y="432.8" width="1" height="7.2" fill="#f6a8a6"/>
<rect x="587" y="436.2" width="1" height="3.8" fill="#f6a8a6"/>
<rect x="588" y="433.7" width="1" height="6.3" fill="#f6a8a6"/>
<rect x="589" y="434.2" width="1" height="5.8" fill="#f6a8a6"/>
<rect x="591" y="433.2" width="1" height="6.8" fill="#8fd0c8"/>
<rect x="592" y="434.1" width="1" height="5.9" fill="#8fd0c8"/>
<rect x="593" y="423.0" width="1" height="17.0" fill="#8fd0c8"/>
<rect x="595" y="434.6" width="1" height="5.4" fill="#8fd0c8"/>
<rect x="596" y="434.2" width="1" height="5.8" fill="#8fd0c8"/>
<rect x="597" y="435.8" width="1" height="4.2" fill="#f6a8a6"/>
<rect x="599" y="434.0" width="1" height="6.0" fill="#f6a8a6"/>
<rect x="600" y="433.4" width="1" height="6.6" fill="#f6a8a6"/>
<rect x="601" y="433.9" width="1" height="6.1" fill="#8fd0c8"/>
<rect x="603" y="434.2" width="1" height="5.8" fill="#8fd0c8"/>
<rect x="604" y="431.7" width="1" height="8.3" fill="#8fd0c8"/>
<rect x="606" y="437.3" width="1" height="2.7" fill="#f6a8a6"/>
<rect x="607" y="432.6" width="1" height="7.4" fill="#8fd0c8"/>
<rect x="608" y="433.1" width="1" height="6.9" fill="#f6a8a6"/>
<rect x="610" y="432.5" width="1" height="7.5" fill="#8fd0c8"/>
<rect x="611" y="437.3" width="1" height="2.7" fill="#8fd0c8"/>
<rect x="612" y="436.4" width="1" height="3.6" fill="#f6a8a6"/>
<rect x="614" y="434.6" width="1" height="5.4" fill="#f6a8a6"/>
<rect x="615" y="437.3" width="1" height="2.7" fill="#8fd0c8"/>
<rect x="616" y="436.0" width="1" height="4.0" fill="#8fd0c8"/>
<rect x="618" y="431.8" width="1" height="8.2" fill="#f6a8a6"/>
<rect x="619" y="436.1" width="1" height="3.9" fill="#8fd0c8"/>
<rect x="620" y="436.3" width="1" height="3.7" fill="#8fd0c8"/>
<rect x="622" y="437.0" width="1" height="3.0" fill="#f6a8a6"/>
<rect x="623" y="438.1" width="1" height="1.9" fill="#8fd0c8"/>
<rect x="624" y="438.5" width="1" height="1.5" fill="#f6a8a6"/>
<rect x="626" y="435.6" width="1" height="4.4" fill="#f6a8a6"/>
<rect x="627" y="433.7" width="1" height="6.3" fill="#f6a8a6"/>
<rect x="628" y="436.7" width="1" height="3.3" fill="#f6a8a6"/>
<rect x="630" y="437.8" width="1" height="2.2" fill="#f6a8a6"/>
<rect x="631" y="436.3" width="1" height="3.7" fill="#f6a8a6"/>
<rect x="632" y="426.0" width="1" height="14.0" fill="#f6a8a6"/>
<rect x="634" y="433.1" width="1" height="6.9" fill="#f6a8a6"/>
<rect x="635" y="436.5" width="1" height="3.5" fill="#8fd0c8"/>
<rect x="637" y="434.7" width="1" height="5.3" fill="#8fd0c8"/>
<rect x="638" y="437.8" width="1" height="2.2" fill="#8fd0c8"/>
<rect x="639" y="434.9" width="1" height="5.1" fill="#f6a8a6"/>
<rect x="641" y="434.0" width="1" height="6.0" fill="#f6a8a6"/>
<rect x="642" y="436.9" width="1" height="3.1" fill="#8fd0c8"/>
<rect x="643" y="434.0" width="1" height="6.0" fill="#f6a8a6"/>
<rect x="645" y="433.8" width="1" height="6.2" fill="#f6a8a6"/>
<rect x="646" y="435.7" width="1" height="4.3" fill="#f6a8a6"/>
<rect x="647" y="430.5" width="1" height="9.5" fill="#f6a8a6"/>
<rect x="649" y="437.3" width="1" height="2.7" fill="#8fd0c8"/>
<rect x="650" y="436.1" width="1" height="3.9" fill="#8fd0c8"/>
<rect x="651" y="435.6" width="1" height="4.4" fill="#8fd0c8"/>
<rect x="653" y="437.2" width="1" height="2.8" fill="#8fd0c8"/>
<rect x="654" y="433.1" width="1" height="6.9" fill="#8fd0c8"/>
<rect x="655" y="436.4" width="1" height="3.6" fill="#8fd0c8"/>
<rect x="657" y="437.8" width="1" height="2.2" fill="#8fd0c8"/>
<rect x="658" y="435.4" width="1" height="4.6" fill="#f6a8a6"/>
<rect x="659" y="432.8" width="1" height="7.2" fill="#f6a8a6"/>
<rect x="661" y="435.4" width="1" height="4.6" fill="#f6a8a6"/>
<rect x="662" y="435.9" width="1" height="4.1" fill="#f6a8a6"/>
<rect x="663" y="436.9" width="1" height="3.1" fill="#8fd0c8"/>
<rect x="665" y="436.2" width="1" height="3.8" fill="#f6a8a6"/>
<rect x="666" y="436.5" width="1" height="3.5" fill="#8fd0c8"/>
<rect x="667" y="434.6" width="1" height="5.4" fill="#f6a8a6"/>
<rect x="669" y="438.1" width="1" height="1.9" fill="#f6a8a6"/>
<rect x="670" y="438.2" width="1" height="1.8" fill="#f6a8a6"/>
<rect x="672" y="438.5" width="1" height="1.5" fill="#f6a8a6"/>
<rect x="673" y="438.5" width="1" height="1.5" fill="#f6a8a6"/>
<rect x="674" y="437.8" width="1" height="2.2" fill="#8fd0c8"/>
<rect x="676" y="437.6" width="1" height="2.4" fill="#8fd0c8"/>
<rect x="677" y="437.2" width="1" height="2.8" fill="#8fd0c8"/>
<rect x="678" y="438.5" width="1" height="1.5" fill="#f6a8a6"/>
<rect x="680" y="437.3" width="1" height="2.7" fill="#f6a8a6"/>
<rect x="681" y="438.5" width="1" height="1.5" fill="#f6a8a6"/>
<rect x="682" y="437.8" width="1" height="2.2" fill="#8fd0c8"/>
<rect x="684" y="437.7" width="1" height="2.3" fill="#f6a8a6"/>
<rect x="685" y="437.5" width="1" height="2.5" fill="#f6a8a6"/>
<rect x="686" y="438.5" width="1" height="1.5" fill="#f6a8a6"/>
<rect x="688" y="438.5" width="1" height="1.5" fill="#8fd0c8"/>
<rect x="689" y="437.6" width="1" height="2.4" fill="#f6a8a6"/>
<rect x="690" y="437.9" width="1" height="2.1" fill="#f6a8a6"/>
<rect x="692" y="438.3" width="1" height="1.7" fill="#f6a8a6"/>
<rect x="693" y="436.7" width="1" height="3.3" fill="#8fd0c8"/>
<rect x="694" y="438.5" width="1" height="1.5" fill="#8fd0c8"/>
<rect x="696" y="436.9" width="1" height="3.1" fill="#8fd0c8"/>
<rect x="697" y="438.2" width="1" height="1.8" fill="#f6a8a6"/>
<rect x="698" y="437.4" width="1" height="2.6" fill="#f6a8a6"/>
<rect x="700" y="437.8" width="1" height="2.2" fill="#f6a8a6"/>
<rect x="701" y="436.4" width="1" height="3.6" fill="#f6a8a6"/>
<rect x="703" y="434.9" width="1" height="5.1" fill="#f6a8a6"/>
<rect x="704" y="436.7" width="1" height="3.3" fill="#8fd0c8"/>
<rect x="705" y="436.3" width="1" height="3.7" fill="#f6a8a6"/>
<rect x="707" y="437.1" width="1" height="2.9" fill="#f6a8a6"/>
<rect x="708" y="435.3" width="1" height="4.7" fill="#f6a8a6"/>
<rect x="709" y="437.8" width="1" height="2.2" fill="#f6a8a6"/>
<rect x="711" y="437.3" width="1" height="2.7" fill="#8fd0c8"/>
<rect x="712" y="437.6" width="1" height="2.4" fill="#8fd0c8"/>
<rect x="713" y="436.7" width="1" height="3.3" fill="#f6a8a6"/>
<rect x="715" y="436.5" width="1" height="3.5" fill="#8fd0c8"/>
<rect x="716" y="435.6" width="1" height="4.4" fill="#8fd0c8"/>
<rect x="717" y="438.3" width="1" height="1.7" fill="#8fd0c8"/>
<rect x="719" y="437.2" width="1" height="2.8" fill="#f6a8a6"/>
<rect x="720" y="435.0" width="1" height="5.0" fill="#f6a8a6"/>
<rect x="721" y="435.8" width="1" height="4.2" fill="#f6a8a6"/>
<rect x="723" y="436.4" width="1" height="3.6" fill="#8fd0c8"/>
<rect x="724" y="434.8" width="1" height="5.2" fill="#f6a8a6"/>
<rect x="725" y="436.3" width="1" height="3.7" fill="#8fd0c8"/>
<rect x="727" y="436.9" width="1" height="3.1" fill="#8fd0c8"/>
<rect x="728" y="436.0" width="1" height="4.0" fill="#8fd0c8"/>
<rect x="729" y="433.2" width="1" height="6.8" fill="#f6a8a6"/>
<rect x="731" y="436.2" width="1" height="3.8" fill="#f6a8a6"/>
<rect x="732" y="436.0" width="1" height="4.0" fill="#8fd0c8"/>
<rect x="734" y="429.0" width="1" height="11.0" fill="#8fd0c8"/>
<rect x="735" y="432.5" width="1" height="7.5" fill="#f6a8a6"/>
<rect x="736" y="435.1" width="1" height="4.9" fill="#8fd0c8"/>
<rect x="738" y="437.4" width="1" height="2.6" fill="#f6a8a6"/>
<rect x="739" y="437.5" width="1" height="2.5" fill="#f6a8a6"/>
<rect x="740" y="435.0" width="1" height="5.0" fill="#f6a8a6"/>
<rect x="742" y="436.2" width="1" height="3.8" fill="#8fd0c8"/>
<rect x="743" y="436.8" width="1" height="3.2" fill="#f6a8a6"/>
<rect x="744" y="432.5" width="1" height="7.5" fill="#8fd0c8"/>
<rect x="746" y="437.1" width="1" height="2.9" fill="#f6a8a6"/>
<rect x="747" y="433.9" width="1" height="6.1" fill="#f6a8a6"/>
<rect x="748" y="437.1" width="1" height="2.9" fill="#8fd0c8"/>
<rect x="750" y="429.0" width="1" height="11.0" fill="#f6a8a6"/>
<rect x="751" y="431.8" width="1" height="8.2" fill="#8fd0c8"/>
<rect x="752" y="436.6" width="1" height="3.4" fill="#f6a8a6"/>
<rect x="754" y="436.6" width="1" height="3.4" fill="#f6a8a6"/>
<rect x="755" y="437.9" width="1" height="2.1" fill="#f6a8a6"/>
<rect x="756" y="436.8" width="1" height="3.2" fill="#f6a8a6"/>
<rect x="758" y="436.6" width="1" height="3.4" fill="#f6a8a6"/>
<rect x="759" y="437.9" width="1" height="2.1" fill="#8fd0c8"/>
<rect x="760" y="436.9" width="1" height="3.1" fill="#8fd0c8"/>
<rect x="762" y="437.5" width="1" height="2.5" fill="#f6a8a6"/>
<rect x="763" y="434.9" width="1" height="5.1" fill="#f6a8a6"/>
<rect x="764" y="434.7" width="1" height="5.3" fill="#8fd0c8"/>
<rect x="766" y="438.2" width="1" height="1.8" fill="#f6a8a6"/>
<rect x="767" y="437.3" width="1" height="2.7" fill="#8fd0c8"/>
<rect x="769" y="438.3" width="1" height="1.7" fill="#f6a8a6"/>
<rect x="770" y="435.5" width="1" height="4.5" fill="#8fd0c8"/>
<rect x="771" y="433.1" width="1" height="6.9" fill="#f6a8a6"/>
<rect x="773" y="437.2" width="1" height="2.8" fill="#f6a8a6"/>
<rect x="774" y="436.2" width="1" height="3.8" fill="#8fd0c8"/>
<rect x="775" y="433.4" width="1" height="6.6" fill="#8fd0c8"/>
<rect x="777" y="434.8" width="1" height="5.2" fill="#f6a8a6"/>
<rect x="778" y="434.9" width="1" height="5.1" fill="#f6a8a6"/>
<rect x="779" y="437.4" width="1" height="2.6" fill="#8fd0c8"/>
<rect x="781" y="435.4" width="1" height="4.6" fill="#f6a8a6"/>
<rect x="782" y="433.8" width="1" height="6.2" fill="#f6a8a6"/>
<polyline points="10.0,417.2 16.7,421.7 23.5,422.8 32.5,424.0 39.2,417.2 46.0,410.4 55.0,406.0 66.0,397.0 72.9,401.4 81.9,402.6 90.9,411.6 96.5,404.8 104.3,398.0 109.0,397.8 113.3,399.2 116.6,400.7 122.3,408.2 126.5,406.5 131.3,406.0 142.5,406.0 151.5,410.4 158.2,415.0 171.7,413.8 178.5,411.6 185.2,412.7 194.2,408.2 205.4,403.7 212.2,408.2 221.1,415.0 227.9,416.0 234.6,419.4 245.8,421.7 254.8,424.0 259.9,421.0 269.6,417.3 279.3,413.7 284.1,410.5 287.8,412.5 296.2,411.7 306.0,414.2 312.0,417.3 319.3,417.3 326.6,414.4 335.0,415.6 342.3,419.7 348.4,425.3 353.3,429.0 358.1,429.0 361.7,426.5 371.4,427.5 378.7,428.2 384.8,430.0 389.6,432.3 400.6,431.9 412.7,433.6 424.8,434.0 439.4,434.5 449.1,435.5 461.2,436.0 485.5,436.2 497.6,435.5 509.7,436.2 515.8,434.3 525.0,433.8 541.6,434.7 568.5,433.9 595.5,433.6 617.0,433.3 627.8,434.7 660.0,435.2 681.7,437.4 708.7,436.0 735.6,434.7 754.5,434.2 773.4,435.2" fill="none" stroke="#1a1a1a" stroke-width="1.3" stroke-linejoin="round"/>
<rect x="95.3" y="364" width="5.5" height="42" fill="rgba(242,54,69,0.42)"/>
<rect x="203.5" y="227.5" width="26.5" height="23.5" fill="rgba(242,54,69,0.42)"/>
<rect x="324.7" y="161.75" width="6.3" height="8.7" fill="rgba(242,54,69,0.42)"/>
<rect x="388.4" y="132.6" width="1.5" height="9" fill="rgba(242,54,69,0.42)"/>
<rect x="450.8" y="224.5" width="8.0" height="13" fill="rgba(242,54,69,0.42)"/>
<rect x="480.3" y="184.7" width="5.4" height="5" fill="rgba(242,54,69,0.42)"/>
<rect x="570.7" y="142" width="3.3" height="13.7" fill="rgba(242,54,69,0.42)"/>
<rect x="595.8" y="92.2" width="1.4" height="17" fill="rgba(242,54,69,0.42)"/>
<rect x="684" y="149" width="16" height="11" fill="rgba(242,54,69,0.42)"/>
<rect x="735.3" y="155.8" width="51.4" height="17.1" fill="rgba(242,54,69,0.22)"/>
<rect x="228.5" y="279" width="30.9" height="65.4" fill="rgba(38,166,154,0.62)"/>
<rect x="426.5" y="269" width="5.5" height="32.5" fill="rgba(38,166,154,0.62)"/>
<rect x="515.2" y="312.2" width="8.5" height="39.5" fill="rgba(38,166,154,0.62)"/>
<rect x="678" y="174" width="10" height="9" fill="rgba(38,120,110,0.6)"/>
<rect x="723.8" y="234" width="7.7" height="12" fill="rgba(38,166,154,0.62)"/>
<rect x="751" y="244.7" width="36" height="37.1" fill="rgba(38,150,154,0.25)"/>
<line x1="94" y1="364" x2="125" y2="364" stroke="#f7858a" stroke-width="1.5"/>
<line x1="203.5" y1="227.8" x2="230" y2="227.8" stroke="#f7858a" stroke-width="1.5"/>
<line x1="230" y1="227.8" x2="262" y2="227.8" stroke="#f7858a" stroke-width="1.5" stroke-dasharray="5,4"/>
<line x1="324.7" y1="161.75" x2="351.8" y2="161.75" stroke="#f7858a" stroke-width="1.5" stroke-dasharray="5,4"/>
<line x1="388.4" y1="132.6" x2="450.2" y2="132.6" stroke="#f7858a" stroke-width="1.5"/>
<line x1="458.8" y1="224.5" x2="477.6" y2="224.5" stroke="#f7858a" stroke-width="1.5" stroke-dasharray="5,4"/>
<line x1="485.7" y1="185.5" x2="569" y2="185.5" stroke="#f7858a" stroke-width="1.5" stroke-dasharray="5,4"/>
<line x1="570.7" y1="142" x2="595" y2="142" stroke="#f7858a" stroke-width="1.5" stroke-dasharray="5,4"/>
<line x1="595" y1="92.2" x2="659.7" y2="92.2" stroke="#f7858a" stroke-width="1.5"/>
<line x1="659.7" y1="126.3" x2="684" y2="126.3" stroke="#f7858a" stroke-width="1.5"/>
<line x1="684" y1="149" x2="735" y2="149" stroke="#f7858a" stroke-width="1.5"/>
<line x1="735.3" y1="156.3" x2="786.7" y2="156.3" stroke="#f77c80" stroke-width="1.5"/>
<line x1="228.5" y1="344.4" x2="312" y2="344.4" stroke="#1e9484" stroke-width="1.6"/>
<line x1="314" y1="271.6" x2="361.3" y2="271.6" stroke="#6cc2b6" stroke-width="1.8" stroke-dasharray="5,5"/>
<line x1="426.5" y1="301.6" x2="456" y2="301.6" stroke="#1e9484" stroke-width="1.6"/>
<line x1="457.4" y1="285.6" x2="515" y2="285.6" stroke="#1e9484" stroke-width="1.3" stroke-dasharray="4,4"/>
<line x1="515.2" y1="351.7" x2="530" y2="351.7" stroke="#1e9484" stroke-width="1.6"/>
<line x1="541.5" y1="338.9" x2="633.8" y2="338.9" stroke="#3fae9f" stroke-width="1.6"/>
<line x1="634" y1="251" x2="677" y2="251" stroke="#1e9484" stroke-width="1.6"/>
<line x1="723.8" y1="246.2" x2="751" y2="246.2" stroke="#1e9484" stroke-width="1.6"/>
<line x1="634.3" y1="234" x2="634.3" y2="251" stroke="#1e9484" stroke-width="1.3"/>
<line x1="542.2" y1="329.8" x2="542.2" y2="338.9" stroke="#3fae9f" stroke-width="1.3"/>
<path d="M94.5 364.0V440.0M95.5 364.0V440.0M96.5 392.2V440.0M98.5 400.9V440.0M99.5 406.6V440.0M100.5 410.0V440.0M174.5 412.0V440.0M176.5 428.9V440.0M177.5 417.5V426.1M179.5 405.4V440.0M180.5 393.3V415.3M181.5 383.0V422.1M183.5 425.0V440.0M184.5 411.1V435.6M185.5 363.7V440.0M187.5 304.0V388.0M188.5 304.0V388.0M189.5 315.7V388.0M191.5 339.6V388.0M192.5 344.5V365.4M193.5 365.9V388.0M195.5 314.0V380.9M196.5 351.0V378.3M197.5 338.7V375.0M199.5 314.5V344.9M200.5 297.5V338.6M201.5 229.0V276.0M203.5 228.5V279.5M204.5 228.0V262.3M205.5 230.0V264.5M207.5 247.2V280.5M208.5 259.9V274.3M209.5 232.0V251.9M211.5 255.2V286.3M212.5 259.2V288.2M214.5 263.7V289.5M215.5 266.3V290.4M216.5 273.4V288.1M218.5 245.0V292.0M219.5 264.3V281.3M220.5 260.5V282.8M222.5 244.0V292.0M223.5 270.0V286.4M224.5 278.5V293.2M226.5 248.0V293.8M227.5 284.4V296.0M228.5 274.8V300.0M230.5 274.7V301.2M231.5 288.9V303.4M232.5 272.0V297.0M234.5 273.8V286.9M235.5 273.9V299.8M236.5 268.5V293.6M238.5 266.7V312.0M239.5 265.7V292.7M240.5 265.0V285.7M242.5 295.2V315.0M243.5 289.0V311.0M245.5 262.0V310.3M246.5 281.6V300.7M247.5 280.5V295.0M249.5 265.0V311.7M250.5 278.9V312.0M251.5 271.5V300.4M253.5 260.0V310.0M254.5 270.8V299.9M255.5 274.7V299.6M257.5 284.1V303.7M258.5 278.3V305.0M259.5 245.3V293.3M261.5 226.3V282.6M262.5 220.3V250.0M263.5 167.0V237.3M265.5 206.3V227.4M266.5 170.0V219.1M267.5 175.0V240.6M269.5 233.8V257.6M270.5 230.0V268.1M271.5 190.8V219.6M273.5 224.4V254.8M274.5 195.0V288.0M275.5 232.4V276.1M277.5 200.0V268.3M278.5 246.8V266.0M280.5 213.9V245.1M281.5 208.9V233.1M282.5 159.0V218.2M284.5 161.2V204.2M285.5 215.7V255.0M286.5 222.4V251.2M288.5 216.4V250.0M289.5 224.9V246.7M290.5 190.0V245.0M292.5 211.4V223.8M293.5 197.0V222.2M294.5 204.6V220.4M296.5 215.3V230.5M297.5 200.0V218.4M298.5 205.0V250.0M300.5 207.2V229.0M301.5 204.9V254.0M302.5 204.4V228.8M304.5 210.0V235.5M305.5 200.0V225.2M306.5 206.0V222.8M308.5 204.1V227.8M309.5 205.0V230.1M311.5 210.2V232.8M312.5 242.9V271.0M313.5 245.7V266.5M315.5 241.2V261.6M316.5 217.7V249.4M317.5 221.6V233.7M319.5 185.0V224.2M320.5 196.0V205.6M321.5 185.5V201.4M323.5 197.1V217.1M324.5 192.1V220.0M325.5 161.0V213.3M327.5 165.0V215.0M328.5 191.2V203.7M329.5 193.2V202.0M331.5 189.4V200.3M332.5 186.7V196.6M333.5 189.1V200.0M335.5 180.0V200.0M336.5 180.2V200.0M337.5 186.3V197.1M339.5 193.2V203.8M340.5 176.0V197.9M342.5 182.4V205.0M343.5 185.0V200.3M344.5 188.1V200.8M346.5 178.0V194.6M347.5 177.2V200.0M348.5 176.7V190.6M350.5 176.2V200.0M351.5 171.8V183.9M352.5 169.0V187.4M354.5 167.2V187.3M355.5 134.0V185.0M356.5 158.6V187.2M358.5 141.1V174.1M359.5 128.9V200.3M360.5 122.0V315.4M362.5 277.7V338.0M363.5 274.5V297.0M364.5 275.8V301.6M366.5 258.0V300.0M367.5 280.8V296.7M368.5 269.4V290.3M370.5 258.0V288.6M371.5 257.1V266.0M372.5 256.1V269.3M374.5 255.1V265.6M375.5 253.6V285.0M377.5 255.2V265.3M378.5 256.0V270.3M379.5 254.0V267.2M381.5 231.0V269.7M382.5 238.9V270.0M383.5 234.0V252.8M385.5 224.3V273.0M386.5 200.7V273.0M387.5 165.0V215.8M389.5 133.0V270.0M390.5 135.0V166.5M391.5 145.6V184.5M393.5 153.0V171.2M394.5 193.7V215.4M395.5 160.0V198.1M397.5 169.6V202.4M398.5 177.4V195.5M399.5 163.0V182.5M401.5 166.2V191.1M402.5 172.7V188.1M403.5 175.5V205.0M405.5 172.7V183.7M406.5 173.1V193.0M408.5 172.0V184.4M409.5 172.6V205.0M410.5 173.7V192.6M412.5 174.7V193.4M413.5 176.1V194.9M414.5 177.8V198.3M416.5 180.0V204.8M417.5 202.1V224.4M418.5 221.3V229.4M420.5 212.5V226.6M421.5 214.7V230.8M422.5 217.8V231.1M424.5 234.7V255.8M425.5 242.9V266.6M426.5 245.0V283.7M428.5 254.6V302.0M429.5 262.1V278.0M430.5 245.0V261.4M432.5 254.3V269.1M433.5 250.8V262.7M434.5 240.0V268.0M436.5 243.8V250.8M437.5 243.9V249.4M438.5 244.6V255.1M440.5 251.8V262.8M441.5 251.2V264.4M443.5 242.0V265.0M444.5 259.5V265.0M445.5 256.1V265.0M447.5 245.0V264.6M448.5 245.1V265.0M449.5 240.9V250.5M451.5 236.7V262.0M452.5 229.5V240.2M453.5 224.0V244.2M455.5 233.1V248.2M456.5 238.4V253.1M457.5 239.8V285.5M459.5 238.9V258.0M460.5 238.0V252.5M461.5 238.5V250.2M463.5 235.9V251.2M464.5 235.0V255.3M465.5 233.6V260.0M467.5 243.0V256.5M468.5 244.2V254.8M469.5 239.9V255.0M471.5 235.8V251.5M472.5 234.7V250.0M474.5 227.8V238.2M475.5 226.6V242.8M476.5 226.7V239.6M478.5 216.8V236.9M479.5 217.3V234.2M480.5 186.0V228.8M482.5 216.0V232.1M483.5 207.7V225.5M484.5 209.7V235.0M486.5 227.2V240.0M487.5 226.5V239.5M488.5 226.1V238.8M490.5 219.2V238.0M491.5 202.9V223.8M492.5 191.0V212.4M494.5 199.9V211.8M495.5 207.5V225.2M496.5 217.5V235.0M498.5 221.4V234.4M499.5 211.5V227.1M500.5 210.0V238.0M502.5 226.1V237.0M503.5 216.9V232.5M505.5 205.0V235.3M506.5 228.8V237.8M507.5 218.3V230.3M509.5 208.0V228.2M510.5 213.3V240.0M511.5 220.5V233.5M513.5 205.0V253.5M514.5 287.0V318.3M515.5 230.0V348.3M517.5 315.0V351.0M518.5 285.7V307.7M519.5 297.5V321.6M521.5 272.0V312.9M522.5 274.0V289.4M523.5 270.0V305.4M525.5 299.5V315.9M526.5 283.2V307.7M527.5 275.0V311.3M529.5 305.7V320.4M530.5 287.6V316.6M531.5 272.0V321.7M533.5 288.0V322.0M534.5 305.8V319.1M535.5 310.6V324.6M537.5 293.7V325.0M538.5 291.1V307.3M540.5 275.0V320.0M541.5 293.7V320.9M542.5 302.4V337.0M544.5 302.2V317.8M545.5 310.2V326.1M546.5 300.1V321.9M548.5 271.7V288.8M549.5 266.9V288.9M550.5 258.9V295.1M552.5 279.7V320.0M553.5 266.3V286.4M554.5 277.8V303.0M556.5 277.1V298.7M557.5 243.6V280.7M558.5 234.8V256.8M560.5 236.2V266.0M561.5 256.5V274.6M562.5 226.5V252.6M564.5 214.9V245.9M565.5 201.2V223.2M566.5 182.6V203.8M568.5 142.0V187.1M569.5 157.8V189.0M571.5 158.8V173.7M572.5 153.6V169.8M573.5 148.9V162.8M575.5 148.0V160.3M576.5 152.4V185.0M577.5 157.1V175.3M579.5 149.4V161.5M580.5 150.0V178.4M581.5 160.8V183.0M583.5 160.6V172.4M584.5 153.2V162.1M585.5 146.0V180.0M587.5 147.3V159.8M588.5 148.4V158.2M589.5 149.5V175.0M591.5 159.9V168.0M592.5 165.2V172.9M593.5 144.5V166.2M595.5 92.0V194.0M596.5 150.8V172.5M597.5 147.1V160.6M599.5 147.1V158.7M600.5 133.0V160.1M601.5 148.2V160.6M603.5 146.0V159.9M604.5 148.1V161.7M606.5 135.0V162.3M607.5 147.8V162.3M608.5 154.3V163.9M610.5 138.0V164.7M611.5 165.5V174.2M612.5 169.4V191.5M614.5 192.9V208.8M615.5 192.2V233.0M616.5 173.1V202.0M618.5 170.0V215.9M619.5 204.7V223.5M620.5 201.0V221.5M622.5 172.0V212.3M623.5 172.8V197.9M624.5 173.8V194.4M626.5 175.0V215.0M627.5 176.4V192.1M628.5 178.0V189.0M630.5 180.0V212.1M631.5 201.9V224.2M632.5 188.2V204.7M634.5 196.3V251.0M635.5 192.6V216.9M637.5 186.7V209.0M638.5 181.6V206.3M639.5 194.8V213.9M641.5 167.6V198.0M642.5 154.8V170.5M643.5 143.0V158.4M645.5 153.5V166.0M646.5 158.1V169.4M647.5 145.0V166.6M649.5 159.3V175.0M650.5 147.4V163.8M651.5 145.8V155.4M653.5 145.2V177.0M654.5 147.1V162.4M655.5 143.1V153.5M657.5 140.6V172.0M658.5 141.7V155.1M659.5 127.0V170.0M661.5 136.2V145.4M662.5 146.1V153.2M663.5 149.9V156.5M665.5 165.6V172.0M666.5 150.0V175.2M667.5 163.3V175.0M669.5 153.6V165.0M670.5 155.0V162.5M672.5 158.7V180.0M673.5 171.1V181.4M674.5 160.0V182.0M676.5 172.0V182.4M677.5 170.4V177.7M678.5 162.0V183.0M680.5 167.9V179.3M681.5 165.0V177.2M682.5 167.4V180.0M684.5 162.6V175.6M685.5 148.0V169.7M686.5 155.9V168.7M688.5 152.8V159.7M689.5 150.4V161.9M690.5 150.0V170.0M692.5 159.9V167.6M693.5 156.9V162.2M694.5 151.8V161.0M696.5 152.5V163.1M697.5 159.0V172.0M698.5 159.5V169.7M700.5 155.0V166.3M701.5 173.7V180.9M703.5 173.1V186.3M704.5 173.3V189.7M705.5 185.1V193.0M707.5 187.1V196.4M708.5 184.3V199.8M709.5 185.9V203.4M711.5 184.4V201.6M712.5 190.3V206.4M713.5 185.2V199.8M715.5 182.0V205.9M716.5 199.7V216.5M717.5 183.8V194.1M719.5 184.8V196.7M720.5 196.2V208.4M721.5 211.9V222.0M723.5 219.5V232.2M724.5 219.2V237.7M725.5 215.0V233.7M727.5 213.5V245.0M728.5 212.9V221.2M729.5 211.5V226.7M731.5 210.2V224.1M732.5 186.8V240.0M734.5 172.3V189.9M735.5 168.4V185.7M736.5 155.6V178.5M738.5 161.8V183.3M739.5 167.5V188.3M740.5 165.2V181.5M742.5 167.5V186.3M743.5 169.9V189.2M744.5 179.3V212.0M746.5 177.1V198.8M747.5 180.4V200.3M748.5 213.8V231.6M750.5 243.6V265.7M751.5 228.3V281.0M752.5 195.0V233.3M754.5 195.9V207.6M755.5 198.1V208.4M756.5 210.8V232.0M758.5 209.6V228.4M759.5 205.7V221.7M760.5 191.4V228.0M762.5 183.4V207.4M763.5 170.7V193.5M764.5 163.0V196.4M766.5 184.9V202.7M767.5 181.5V201.0M769.5 165.0V200.0M770.5 187.0V200.0M771.5 185.5V198.2M773.5 185.2V193.5M774.5 191.8V202.4M775.5 179.6V195.0M777.5 177.7V189.9M778.5 180.0V205.0M779.5 177.5V190.4M781.5 176.0V200.0M782.5 180.0V195.0" stroke="#000" stroke-width="1.0" fill="none"/>
<rect x="11" y="83" width="1022" height="2" fill="#e2084f"/>
<rect x="11" y="127" width="1022" height="2" fill="#8f10a8"/>
<line x1="10" y1="182.5" x2="1032" y2="182.5" stroke="#9c27b0" stroke-width="1" stroke-dasharray="1,2"/>
<line x1="201" y1="227.6" x2="1033" y2="237.8" stroke="#e91e63" stroke-width="2.6" stroke-linecap="round" stroke-dasharray="0.1,5.9" stroke-dashoffset="5.49"/>
<line x1="11" y1="396.3" x2="1033" y2="238.7" stroke="#8f10a8" stroke-width="2"/>
<text x="97" y="354.9" text-anchor="middle" fill="#f77c80" font-size="7.2" font-family="Liberation Sans, sans-serif">115.424K</text>
<text x="203" y="217.4" text-anchor="middle" fill="#f77c80" font-size="7.2" font-family="Liberation Sans, sans-serif">402.077K</text>
<text x="324" y="153.1" text-anchor="middle" fill="#f77c80" font-size="7.2" font-family="Liberation Sans, sans-serif">60.003K</text>
<text x="388.4" y="123.2" text-anchor="middle" fill="#f77c80" font-size="7.2" font-family="Liberation Sans, sans-serif">7.934K</text>
<text x="450" y="214.8" text-anchor="middle" fill="#f77c80" font-size="7.2" font-family="Liberation Sans, sans-serif">11.607K</text>
<text x="480.3" y="175.8" text-anchor="middle" fill="#f77c80" font-size="7.2" font-family="Liberation Sans, sans-serif">22.193K</text>
<text x="570" y="133.0" text-anchor="middle" fill="#f77c80" font-size="7.2" font-family="Liberation Sans, sans-serif">10.744K</text>
<text x="594" y="82.9" text-anchor="middle" fill="#f77c80" font-size="7.2" font-family="Liberation Sans, sans-serif">12.075K</text>
<text x="659" y="116.9" text-anchor="middle" fill="#f77c80" font-size="7.2" font-family="Liberation Sans, sans-serif">1.118K</text>
<text x="683" y="139.8" text-anchor="middle" fill="#f77c80" font-size="7.2" font-family="Liberation Sans, sans-serif">16.188K</text>
<text x="735" y="147.1" text-anchor="middle" fill="#f77c80" font-size="7.2" font-family="Liberation Sans, sans-serif">3.198K</text>
<text x="226.7" y="359.7" text-anchor="middle" fill="#2a9d8f" font-size="7.2" font-family="Liberation Sans, sans-serif">290.676K</text>
<text x="313" y="286.9" text-anchor="middle" fill="#2a9d8f" font-size="7.2" font-family="Liberation Sans, sans-serif">53.252K</text>
<text x="426" y="317.0" text-anchor="middle" fill="#2a9d8f" font-size="7.2" font-family="Liberation Sans, sans-serif">14.171K</text>
<text x="457.5" y="301.7" text-anchor="middle" fill="#2a9d8f" font-size="7.2" font-family="Liberation Sans, sans-serif">13.066K</text>
<text x="515.2" y="366.8" text-anchor="middle" fill="#2a9d8f" font-size="7.2" font-family="Liberation Sans, sans-serif">22.024K</text>
<text x="540.5" y="354.1" text-anchor="middle" fill="#2a9d8f" font-size="7.2" font-family="Liberation Sans, sans-serif">5.883K</text>
<text x="632.7" y="265.9" text-anchor="middle" fill="#2a9d8f" font-size="7.2" font-family="Liberation Sans, sans-serif">3.301K</text>
<text x="677" y="197.7" text-anchor="middle" fill="#2a9d8f" font-size="7.2" font-family="Liberation Sans, sans-serif">16.146K</text>
<text x="723.7" y="262.0" text-anchor="middle" fill="#2a9d8f" font-size="7.2" font-family="Liberation Sans, sans-serif">16.893K</text>

<circle cx="782.1" cy="427.3" r="9.3" fill="#fff" stroke="#9c27b0" stroke-width="1.5"/>
<polyline points="785.4,422.4 778.7,427.5 786.1,427.5 779.4,432.5" fill="none" stroke="#9c27b0" stroke-width="1.7" stroke-linejoin="round" stroke-linecap="round"/>
<circle cx="805.50" cy="426.8" r="9.4" fill="#fff" stroke="#f23645" stroke-width="1.0"/><circle cx="804.05" cy="426.8" r="9.4" fill="#fff" stroke="#f23645" stroke-width="1.0"/><circle cx="802.6" cy="426.8" r="9.3" fill="#fff" stroke="#f23645" stroke-width="1.3"/><clipPath id="fc1"><circle cx="802.6" cy="426.8" r="7.6"/></clipPath><g clip-path="url(#fc1)"><rect x="793.6" y="419.20" width="18" height="3.30" fill="#ef4552"/><rect x="793.6" y="425.00" width="18" height="3.70" fill="#ef4552"/><rect x="793.6" y="431.20" width="18" height="3.50" fill="#ef4552"/><rect x="793.6" y="418.80" width="11.00" height="9.9" fill="#3b8de5"/><rect x="797.00" y="421.30" width="1.1" height="0.9" fill="#dbe9fb"/><rect x="799.00" y="421.30" width="1.1" height="0.9" fill="#dbe9fb"/><rect x="801.00" y="421.30" width="1.1" height="0.9" fill="#dbe9fb"/><rect x="803.00" y="421.30" width="1.1" height="0.9" fill="#dbe9fb"/><rect x="797.00" y="423.60" width="1.1" height="0.9" fill="#dbe9fb"/><rect x="799.00" y="423.60" width="1.1" height="0.9" fill="#dbe9fb"/><rect x="801.00" y="423.60" width="1.1" height="0.9" fill="#dbe9fb"/><rect x="803.00" y="423.60" width="1.1" height="0.9" fill="#dbe9fb"/><rect x="797.00" y="425.90" width="1.1" height="0.9" fill="#dbe9fb"/><rect x="799.00" y="425.90" width="1.1" height="0.9" fill="#dbe9fb"/><rect x="801.00" y="425.90" width="1.1" height="0.9" fill="#dbe9fb"/><rect x="803.00" y="425.90" width="1.1" height="0.9" fill="#dbe9fb"/></g>
<circle cx="866.9" cy="426.9" r="9.3" fill="#fff" stroke="#f23645" stroke-width="1.3"/><clipPath id="fc2"><circle cx="866.9" cy="426.9" r="7.6"/></clipPath><g clip-path="url(#fc2)"><rect x="857.9" y="419.30" width="18" height="3.30" fill="#ef4552"/><rect x="857.9" y="425.10" width="18" height="3.70" fill="#ef4552"/><rect x="857.9" y="431.30" width="18" height="3.50" fill="#ef4552"/><rect x="857.9" y="418.90" width="11.00" height="9.9" fill="#3b8de5"/><rect x="861.30" y="421.40" width="1.1" height="0.9" fill="#dbe9fb"/><rect x="863.30" y="421.40" width="1.1" height="0.9" fill="#dbe9fb"/><rect x="865.30" y="421.40" width="1.1" height="0.9" fill="#dbe9fb"/><rect x="867.30" y="421.40" width="1.1" height="0.9" fill="#dbe9fb"/><rect x="861.30" y="423.70" width="1.1" height="0.9" fill="#dbe9fb"/><rect x="863.30" y="423.70" width="1.1" height="0.9" fill="#dbe9fb"/><rect x="865.30" y="423.70" width="1.1" height="0.9" fill="#dbe9fb"/><rect x="867.30" y="423.70" width="1.1" height="0.9" fill="#dbe9fb"/><rect x="861.30" y="426.00" width="1.1" height="0.9" fill="#dbe9fb"/><rect x="863.30" y="426.00" width="1.1" height="0.9" fill="#dbe9fb"/><rect x="865.30" y="426.00" width="1.1" height="0.9" fill="#dbe9fb"/><rect x="867.30" y="426.00" width="1.1" height="0.9" fill="#dbe9fb"/></g>

</g>
<g clip-path="url(#oscclip)">
<rect x="11" y="447" width="1022" height="1" fill="#eff1f3"/>
<rect x="11" y="478" width="1022" height="1" fill="#eff1f3"/>
<rect x="11" y="539" width="1022" height="1" fill="#eff1f3"/>
<rect x="32" y="441" width="1" height="128" fill="#eff1f3"/>
<rect x="129" y="441" width="1" height="128" fill="#eff1f3"/>
<rect x="259" y="441" width="1" height="128" fill="#eff1f3"/>
<rect x="356" y="441" width="1" height="128" fill="#eff1f3"/>
<rect x="483" y="441" width="1" height="128" fill="#eff1f3"/>
<rect x="564" y="441" width="1" height="128" fill="#eff1f3"/>
<rect x="645" y="441" width="1" height="128" fill="#eff1f3"/>
<rect x="742" y="441" width="1" height="128" fill="#eff1f3"/>
<rect x="839" y="441" width="1" height="128" fill="#eff1f3"/>
<rect x="936" y="441" width="1" height="128" fill="#eff1f3"/>
<line x1="10.1" y1="472.5" x2="1028" y2="472.5" stroke="#787b86" stroke-width="1" stroke-dasharray="4.7,6.3"/>
<line x1="10.1" y1="509.5" x2="1028" y2="509.5" stroke="#a9acb5" stroke-width="1" stroke-dasharray="4.7,6.3"/>
<line x1="10.1" y1="545.5" x2="1028" y2="545.5" stroke="#787b86" stroke-width="1" stroke-dasharray="4.7,6.3"/>
<polyline points="10.3,466.3 11.6,467.6 13.0,469.2 14.3,468.8 15.7,471.9 17.0,477.2 18.4,481.7 19.7,486.4 21.1,488.5 22.4,493.0 23.8,499.0 25.1,499.8 26.5,501.9 27.8,504.2 29.2,506.1 30.5,509.1 31.9,514.5 33.2,507.1 34.5,502.3 35.9,497.4 37.2,490.4 38.6,482.2 39.9,473.3 41.3,466.3 42.6,459.3 44.0,458.2 45.3,459.1 46.7,459.0 48.0,458.2 49.4,462.1 50.7,458.8 52.1,459.2 53.4,458.8 54.8,461.8 56.1,464.4 57.4,470.9 58.8,479.7 60.1,481.5 61.5,482.2 62.8,477.5 64.2,474.6 65.5,469.6 66.9,463.3 68.2,462.7 69.6,461.2 70.9,458.9 72.3,460.0 73.6,459.0 75.0,462.3 76.3,458.6 77.7,458.8 79.0,456.9 80.3,457.6 81.7,458.7 83.0,470.6 84.4,482.5 85.7,495.7 87.1,504.4 88.4,511.8 89.8,505.1 91.1,501.2 92.5,489.3 93.8,477.4 95.2,468.9 96.5,470.7 97.9,474.9 99.2,478.9 100.6,486.7 101.9,496.0 103.2,506.4 104.6,520.1 105.9,533.5 107.3,536.0 108.6,536.3 110.0,533.3 111.3,531.1 112.7,529.2 114.0,527.4 115.4,525.1 116.7,522.8 118.1,519.3 119.4,512.4 120.8,508.1 122.1,508.2 123.5,503.4 124.8,502.8 126.1,503.6 127.5,503.0 128.8,517.3 130.2,526.9 131.5,530.7 132.9,535.6 134.2,535.0 135.6,529.2 136.9,526.3 138.3,528.3 139.6,530.5 141.0,531.3 142.3,530.3 143.7,531.4 145.0,528.8 146.4,527.2 147.7,518.3 149.0,507.5 150.4,496.2 151.7,486.6 153.1,477.2 154.4,470.3 155.8,474.2 157.1,474.2 158.5,476.1 159.8,477.5 161.2,477.3 162.5,476.5 163.9,481.7 165.2,485.1 166.6,487.0 167.9,488.7 169.3,490.5 170.6,489.7 171.9,490.1 173.3,483.8 174.6,479.1 176.0,476.5 177.3,470.1 178.7,467.6 180.0,460.5 181.4,458.9 182.7,458.5 184.1,457.5 185.4,455.7 186.8,454.4 188.1,452.9 189.5,455.5 190.8,459.1 192.2,465.2 193.5,472.5 194.9,477.6 196.2,485.0 197.5,486.0 198.9,482.6 200.2,475.7 201.6,468.5 202.9,466.0 204.3,463.6 205.6,464.0 207.0,464.6 208.3,469.9 209.7,473.3 211.0,473.4 212.4,473.5 213.7,473.3 215.1,475.8 216.4,476.8 217.8,482.5 219.1,483.9 220.4,486.4 221.8,485.6 223.1,490.7 224.5,491.8 225.8,493.1 227.2,496.7 228.5,493.3 229.9,497.3 231.2,489.2 232.6,486.5 233.9,487.1 235.3,488.0 236.6,499.9 238.0,508.0 239.3,512.8 240.7,511.9 242.0,508.3 243.3,506.1 244.7,508.5 246.0,507.2 247.4,513.6 248.7,524.3 250.1,529.0 251.4,528.2 252.8,521.6 254.1,511.0 255.5,495.4 256.8,482.4 258.2,478.7 259.5,472.2 260.9,470.3 262.2,464.6 263.6,464.0 264.9,464.0 266.2,466.7 267.6,468.7 268.9,471.6 270.3,481.8 271.6,490.1 273.0,500.3 274.3,513.1 275.7,524.2 277.0,535.5 278.4,532.6 279.7,523.7 281.1,508.7 282.4,494.2 283.8,482.7 285.1,472.6 286.5,472.8 287.8,475.4 289.1,482.9 290.5,489.3 291.8,497.4 293.2,505.4 294.5,510.4 295.9,515.2 297.2,516.8 298.6,513.7 299.9,515.3 301.3,513.8 302.6,514.5 304.0,514.6 305.3,511.9 306.7,514.0 308.0,510.4 309.4,514.0 310.7,518.1 312.0,520.6 313.4,520.7 314.7,516.5 316.1,502.8 317.4,493.2 318.8,480.5 320.1,472.3 321.5,471.4 322.8,469.4 324.2,471.9 325.5,474.7 326.9,478.5 328.2,479.7 329.6,482.8 330.9,486.4 332.3,493.9 333.6,497.9 334.9,501.2 336.3,506.3 337.6,507.7 339.0,507.3 340.3,506.0 341.7,504.1 343.0,501.2 344.4,500.7 345.7,503.6 347.1,502.8 348.4,502.0 349.8,499.3 351.1,497.3 352.5,490.4 353.8,481.8 355.2,478.2 356.5,475.5 357.8,475.3 359.2,483.7 360.5,492.1 361.9,507.0 363.2,524.2 364.6,532.1 365.9,541.6 367.3,539.4 368.6,537.5 370.0,536.6 371.3,536.0 372.7,533.1 374.0,530.5 375.4,524.4 376.7,519.3 378.1,510.0 379.4,497.3 380.7,488.1 382.1,481.8 383.4,477.7 384.8,478.3 386.1,482.0 387.5,480.2 388.8,478.4 390.2,479.8 391.5,477.0 392.9,480.5 394.2,484.1 395.6,487.0 396.9,488.2 398.3,488.0 399.6,489.6 401.0,490.5 402.3,488.4 403.6,494.2 405.0,495.9 406.3,496.6 407.7,496.4 409.0,498.7 410.4,500.8 411.7,506.8 413.1,516.0 414.4,527.3 415.8,535.3 417.1,542.2 418.5,542.2 419.8,542.5 421.2,545.5 422.5,545.9 423.9,549.9 425.2,546.0 426.5,542.2 427.9,541.0 429.2,537.3 430.6,530.1 431.9,524.5 433.3,518.9 434.6,516.4 436.0,513.7 437.3,510.6 438.7,509.7 440.0,507.4 441.4,504.8 442.7,505.2 444.1,502.3 445.4,501.5 446.8,497.9 448.1,497.0 449.4,495.6 450.8,491.8 452.1,496.5 453.5,505.6 454.8,520.3 456.2,526.2 457.5,533.2 458.9,533.9 460.2,527.6 461.6,518.5 462.9,504.7 464.3,498.0 465.6,495.8 467.0,492.1 468.3,491.0 469.7,490.9 471.0,489.8 472.3,483.0 473.7,481.8 475.0,478.8 476.4,473.2 477.7,466.8 479.1,464.0 480.4,468.1 481.8,473.0 483.1,485.2 484.5,496.6 485.8,504.2 487.2,513.2 488.5,512.8 489.9,509.6 491.2,509.6 492.6,502.8 493.9,500.0 495.2,501.8 496.6,502.9 497.9,507.2 499.3,513.7 500.6,522.1 502.0,522.3 503.3,525.7 504.7,529.8 506.0,527.0 507.4,522.1 508.7,520.0 510.1,517.8 511.4,520.9 512.8,529.1 514.1,536.7 515.5,543.4 516.8,538.7 518.2,534.2 519.5,531.5 520.8,528.4 522.2,526.1 523.5,525.4 524.9,523.5 526.2,522.3 527.6,522.0 528.9,524.2 530.3,524.4 531.6,522.6 533.0,520.2 534.3,518.1 535.7,515.7 537.0,515.5 538.4,518.3 539.7,523.9 541.1,522.5 542.4,521.7 543.7,516.1 545.1,510.5 546.4,505.8 547.8,505.5 549.1,501.8 550.5,496.9 551.8,493.6 553.2,486.9 554.5,484.3 555.9,479.0 557.2,478.5 558.6,478.5 559.9,482.4 561.3,479.6 562.6,477.8 564.0,475.3 565.3,467.6 566.6,466.0 568.0,458.7 569.3,456.2 570.7,458.1 572.0,461.2 573.4,461.3 574.7,463.7 576.1,465.6 577.4,465.9 578.8,468.9 580.1,470.2 581.5,471.4 582.8,476.5 584.2,479.3 585.5,482.4 586.9,485.1 588.2,488.1 589.5,495.1 590.9,501.2 592.2,505.9 593.6,507.2 594.9,505.2 596.3,507.2 597.6,507.8 599.0,508.8 600.3,509.6 601.7,510.2 603.0,508.8 604.4,509.6 605.7,509.7 607.1,510.9 608.4,512.4 609.8,516.8 611.1,522.2 612.4,521.9 613.8,533.5 615.1,541.7 616.5,547.4 617.8,544.5 619.2,538.2 620.5,537.1 621.9,531.7 623.2,528.6 624.6,522.6 625.9,520.8 627.3,517.4 628.6,512.0 630.0,505.9 631.3,503.0 632.7,508.8 634.0,512.8 635.3,515.6 636.7,518.7 638.0,522.5 639.4,520.1 640.7,509.7 642.1,497.3 643.4,486.3 644.8,473.2 646.1,468.6 647.5,467.6 648.8,469.6 650.2,471.7 651.5,471.1 652.9,469.5 654.2,470.8 655.6,468.1 656.9,468.0 658.2,473.8 659.6,474.6 660.9,477.9 662.3,485.9 663.6,492.3 665.0,505.4 666.3,511.9 667.7,519.2 669.0,524.6 670.4,534.7 671.7,541.9 673.1,548.0 674.4,550.0 675.8,550.6 677.1,549.0 678.5,545.7 679.8,538.1 681.1,530.3 682.5,520.0 683.8,510.2 685.2,503.5 686.5,494.3 687.9,488.8 689.2,490.3 690.6,491.3 691.9,495.6 693.3,501.1 694.6,504.4 696.0,501.4 697.3,501.6 698.7,508.3 700.0,518.3 701.4,529.5 702.7,539.8 704.0,544.4 705.4,547.0 706.7,548.0 708.1,545.2 709.4,541.9 710.8,534.4 712.1,531.7 713.5,530.9 714.8,533.0 716.2,529.9 717.5,531.1 718.9,528.7 720.2,522.8 721.6,524.5 722.9,524.3 724.3,528.2 725.6,534.6 726.9,536.8 728.3,540.1 729.6,534.7 731.0,514.5 732.3,498.3 733.7,487.5 735.0,476.0 736.4,475.8 737.7,476.4 739.1,481.7 740.4,488.4 741.8,493.5 743.1,499.0 744.5,504.1 745.8,507.4 747.2,512.2 748.5,514.0 749.8,516.8 751.2,520.8 752.5,521.1 753.9,516.0 755.2,512.5 756.6,508.1 757.9,504.1 759.3,499.9 760.6,494.8 762.0,485.8 763.3,482.0 764.7,471.1 766.0,462.1 767.4,464.6 768.7,461.3 770.1,467.6 771.4,471.7 772.7,476.7 774.1,487.8 775.4,496.6 776.8,500.5 778.1,502.9 779.5,503.4 780.8,501.5" fill="none" stroke="#e91e63" stroke-width="2.3" stroke-linejoin="round"/>
<polyline points="10.3,470.9 12.3,468.8 15.4,470.9 20.6,485.3 24.7,498.6 27.8,500.7 32.9,512.0 37.0,499.7 41.2,475.0 44.2,459.5 47.3,460.6 50.4,463.7 53.5,461.6 56.6,464.7 61.7,484.2 64.8,479.1 67.9,465.7 73.0,461.6 76.1,462.6 81.3,458.5 83.3,462.6 86.4,491.4 89.5,512.0 92.6,499.7 95.7,470.9 97.7,471.9 100.8,481.2 103.9,501.7 107.0,532.6 109.1,534.7 112.1,529.5 117.3,523.3 121.4,510.0 125.5,501.7 128.6,503.8 131.7,526.4 134.8,535.7 137.9,525.4 142.0,529.5 147.1,528.5 151.2,501.7 155.3,470.9 158.4,477.0 162.6,479.1 166.7,484.2 169.8,492.5 172.8,489.4 177.0,477.0 181.1,463.7 185.2,458.5 188.3,456.5 191.4,459.5 195.5,477.0 198.1,488.4 200.1,484.2 203.2,467.8 206.3,465.7 209.4,469.8 211.5,475.0 214.5,476.0 217.6,478.1 221.7,488.4 224.8,490.4 227.9,497.6 231.0,494.5 233.1,486.3 236.2,489.4 239.2,510.0 241.9,514.1 244.4,504.8 247.5,508.9 250.6,526.4 252.6,528.5 254.7,518.2 257.8,485.3 260.8,472.9 263.9,465.7 267.0,467.8 270.1,475.0 273.2,491.4 276.3,518.2 278.3,535.7 280.4,528.5 283.5,497.6 286.6,471.9 289.7,479.1 292.7,495.6 296.9,517.2 299.9,514.1 303.0,513.0 307.1,514.1 309.2,511.0 312.3,519.2 315.4,519.2 318.5,495.6 321.5,472.9 324.6,471.9 327.7,478.1 331.8,487.3 338.0,507.9 341.1,506.9 345.2,501.7 349.3,502.8 352.4,497.6 355.5,481.2 358.6,475.0 361.7,493.5 364.8,526.4 366.8,540.8 369.9,536.7 375.0,530.5 378.1,518.2 381.2,493.5 384.3,480.1 387.4,482.2 390.0,480.1 393.1,479.1 395.1,483.2 397.2,491.4 400.3,489.4 403.4,490.4 406.5,497.6 409.5,497.6 412.6,505.8 415.7,526.4 418.8,539.8 421.9,543.9 425.0,546.0 428.1,540.8 431.2,533.6 434.2,519.2 438.4,511.0 441.4,507.9 444.5,502.8 447.6,500.7 451.7,493.5 453.8,496.6 455.8,518.2 458.9,532.6 461.0,530.5 464.1,505.8 466.1,496.6 470.2,491.4 472.3,489.4 475.4,481.2 479.9,465.7 482.6,472.9 485.7,497.6 488.8,514.1 491.9,510.0 494.9,500.7 498.0,503.8 502.1,520.2 506.3,528.5 509.3,518.2 512.4,520.2 516.5,540.8 519.6,532.6 523.7,524.4 527.9,522.3 532.0,522.3 535.1,517.2 538.1,514.1 541.2,524.4 544.3,519.2 547.4,505.8 550.5,502.8 553.6,491.4 557.7,479.1 560.8,483.2 563.9,480.1 567.0,466.7 570.0,458.5 573.1,461.6 576.2,465.7 579.3,469.8 582.4,474.0 585.0,479.1 588.1,487.3 591.2,496.6 593.2,507.9 596.3,506.9 599.4,507.9 602.5,510.0 606.6,510.0 609.7,512.0 613.8,524.4 616.9,543.9 619.0,541.9 622.0,534.7 625.1,524.4 628.2,518.2 631.9,503.8 635.4,512.0 638.9,522.3 641.0,518.2 644.7,485.3 646.7,470.9 649.8,471.9 651.9,475.0 655.0,470.9 658.0,469.8 661.1,477.0 664.2,489.4 667.3,512.0 670.4,526.4 673.5,544.9 676.6,550.1 679.7,542.9 682.7,528.5 685.8,503.8 688.9,490.4 692.0,493.5 695.1,503.8 698.2,500.7 701.3,518.2 704.3,542.9 707.4,546.0 710.5,540.8 712.6,530.5 715.7,529.5 718.7,530.5 721.8,521.3 724.9,524.4 727.0,534.7 730.1,540.8 733.1,501.7 736.2,477.0 738.3,476.0 741.4,487.3 744.5,501.7 748.6,512.0 752.7,521.3 755.8,514.1 759.9,501.7 764.0,485.3 767.1,464.7 770.2,463.7 773.3,475.0 776.4,495.6 779.4,505.8 782.1,502.0" fill="none" stroke="#2962ff" stroke-width="2.2" stroke-linejoin="round"/>
</g>
<rect x="11" y="440" width="1091" height="1" fill="#e0e3eb"/>
<text x="1043.2" y="217.9" font-size="12" fill="#131722" textLength="48.2" lengthAdjust="spacingAndGlyphs">27900.00</text>
<text x="1043.2" y="256.9" font-size="12" fill="#131722" textLength="48.2" lengthAdjust="spacingAndGlyphs">27500.00</text>
<text x="1043.2" y="295.9" font-size="12" fill="#131722" textLength="48.2" lengthAdjust="spacingAndGlyphs">27100.00</text>
<text x="1043.2" y="335.9" font-size="12" fill="#131722" textLength="48.2" lengthAdjust="spacingAndGlyphs">26700.00</text>
<text x="1043.2" y="366.9" font-size="12" fill="#131722" textLength="48.2" lengthAdjust="spacingAndGlyphs">26400.00</text>
<text x="1043.2" y="397.9" font-size="12" fill="#131722" textLength="48.2" lengthAdjust="spacingAndGlyphs">26100.00</text>
<text x="1043.2" y="178.9" font-size="12" fill="#131722" textLength="48.2" lengthAdjust="spacingAndGlyphs">28300.00</text>
<text x="1043.2" y="430.9" font-size="12" fill="#131722" textLength="48.2" lengthAdjust="spacingAndGlyphs">25800.00</text>
<path d="M1033 67H1095.8Q1097.8 67 1097.8 69V81.6Q1097.8 83.6 1095.8 83.6H1033Z" fill="#e91e63"/>
<rect x="997.2" y="84.5" width="34.6" height="16" rx="2" fill="#e3effd"/>
<path d="M1033 84.5H1095.8Q1097.8 84.5 1097.8 86.5V98.5Q1097.8 100.5 1095.8 100.5H1033Z" fill="#e3effd"/>
<path d="M1033 120.3H1095.8Q1097.8 120.3 1097.8 122.3V134.6Q1097.8 136.6 1095.8 136.6H1033Z" fill="#9c27b0"/>
<path d="M1033 174H1095.8Q1097.8 174 1097.8 176V202.6Q1097.8 204.6 1095.8 204.6H1033Z" fill="#9c27b0"/>
<path d="M1033 215.4H1095.8Q1097.8 215.4 1097.8 217.4V229.5Q1097.8 231.5 1095.8 231.5H1033Z" fill="#4d4d4d"/>
<path d="M1033 424H1085.9Q1085.9 424 1085.9 424V439.3Q1085.9 439.3 1085.9 439.3H1033Z" fill="#000000"/>
<path d="M1033 490.2H1076.7Q1078.7 490.2 1078.7 492.2V504.5Q1078.7 506.5 1076.7 506.5H1033Z" fill="#e91e63"/>
<path d="M1033 506.5H1076.7Q1078.7 506.5 1078.7 508.5V521.5Q1078.7 523.5 1076.7 523.5H1033Z" fill="#2962ff"/>
<text x="10.3" y="19.0" font-size="13" fill="#131722" textLength="41.5" lengthAdjust="spacingAndGlyphs">nidqpbz</text>
<text x="56.9" y="19.0" font-size="13" fill="#131722" textLength="9.8" lengthAdjust="spacingAndGlyphs">이</text>
<text x="72.3" y="19.0" font-size="13" fill="#131722" textLength="93.9" lengthAdjust="spacingAndGlyphs">TradingView.com,</text>
<text x="170.2" y="19.0" font-size="13" fill="#131722" textLength="17.0" lengthAdjust="spacingAndGlyphs">4월</text>
<text x="191.6" y="19.0" font-size="13" fill="#131722" textLength="16.4" lengthAdjust="spacingAndGlyphs">05,</text>
<text x="213.0" y="19.0" font-size="13" fill="#131722" textLength="24.5" lengthAdjust="spacingAndGlyphs">2023</text>
<text x="241.3" y="19.0" font-size="13" fill="#131722" textLength="28.9" lengthAdjust="spacingAndGlyphs">06:13</text>
<text x="275.7" y="19.0" font-size="13" fill="#131722" textLength="32.7" lengthAdjust="spacingAndGlyphs">UTC+9</text>
<text x="314.7" y="19.0" font-size="13" fill="#131722" textLength="9.4" lengthAdjust="spacingAndGlyphs">에</text>
<text x="329.1" y="19.0" font-size="13" fill="#131722" textLength="70.5" lengthAdjust="spacingAndGlyphs">퍼블리쉬했음</text>
<text x="18.3" y="46.0" font-size="13" fill="#131722" textLength="189.4" lengthAdjust="spacingAndGlyphs">Bitcoin / TetherUS, 1시간, BINANCE</text>
<text x="217.4" y="46.0" font-size="13" fill="#131722" textLength="58.8" lengthAdjust="spacingAndGlyphs">시28250.04</text>
<text x="285.0" y="46.0" font-size="13" fill="#131722" textLength="58.4" lengthAdjust="spacingAndGlyphs">고28254.11</text>
<text x="352.3" y="46.0" font-size="13" fill="#131722" textLength="59.3" lengthAdjust="spacingAndGlyphs">저28211.57</text>
<text x="419.5" y="46.0" font-size="13" fill="#131722" textLength="60.3" lengthAdjust="spacingAndGlyphs">종28227.58</text>
<text x="488.3" y="46.0" font-size="13" fill="#131722" textLength="83.4" lengthAdjust="spacingAndGlyphs">−22.46 (−0.08%)</text>
<text x="1043.2" y="45.0" font-size="12" fill="#131722" textLength="27.2" lengthAdjust="spacingAndGlyphs">USDT</text>
<defs><linearGradient id="fadeg" x1="0" y1="0" x2="0" y2="1"><stop offset="0" stop-color="#c8cad0"/><stop offset="1" stop-color="#2a2e39"/></linearGradient></defs>
<text x="1043.2" y="59.0" font-size="12" fill="url(#fadeg)" textLength="47.8" lengthAdjust="spacingAndGlyphs">29600.00</text>
<text x="1043.0" y="80.2" font-size="12.5" fill="#fff" font-weight="bold" textLength="48.2" lengthAdjust="spacingAndGlyphs">29278.00</text>
<text x="1002.7" y="97.2" font-size="12" fill="#131722" textLength="23.2" lengthAdjust="spacingAndGlyphs">고가</text>
<text x="1043.6" y="96.9" font-size="12" fill="#131722" textLength="47.2" lengthAdjust="spacingAndGlyphs">29184.68</text>
<text x="1043.0" y="133.0" font-size="12.5" fill="#fff" font-weight="bold" textLength="48.2" lengthAdjust="spacingAndGlyphs">28805.00</text>
<text x="1042.8" y="187.0" font-size="12.5" fill="#fff" font-weight="bold" textLength="48.8" lengthAdjust="spacingAndGlyphs">28227.58</text>
<text x="1042.8" y="200.8" font-size="12.5" fill="#e8c4ee" font-weight="bold" textLength="30.1" lengthAdjust="spacingAndGlyphs">46:24</text>
<text x="1043.0" y="228.0" font-size="12.5" fill="#fff" font-weight="bold" textLength="48.3" lengthAdjust="spacingAndGlyphs">27800.00</text>
<text x="1043.0" y="436.8" font-size="12.5" fill="#fff" font-weight="bold" textLength="36.9" lengthAdjust="spacingAndGlyphs">2.124K</text>
<text x="1043.7" y="451.7" font-size="12" fill="#131722" textLength="35.0" lengthAdjust="spacingAndGlyphs">100.00</text>
<text x="1043.3" y="481.9" font-size="12" fill="#131722" textLength="29.2" lengthAdjust="spacingAndGlyphs">75.00</text>
<text x="1043.3" y="544.2" font-size="12" fill="#131722" textLength="29.2" lengthAdjust="spacingAndGlyphs">25.00</text>
<text x="1042.7" y="503.1" font-size="12.5" fill="#fff" font-weight="bold" textLength="29.8" lengthAdjust="spacingAndGlyphs">58.27</text>
<text x="1042.7" y="520.0" font-size="12.5" fill="#fff" font-weight="bold" textLength="29.8" lengthAdjust="spacingAndGlyphs">55.42</text>
<text x="25.2" y="587.0" font-size="12" fill="#131722" textLength="13.0" lengthAdjust="spacingAndGlyphs">13</text>
<text x="122.2" y="587.0" font-size="12" fill="#131722" textLength="13.0" lengthAdjust="spacingAndGlyphs">16</text>
<text x="252.2" y="587.0" font-size="12" fill="#131722" textLength="13.0" lengthAdjust="spacingAndGlyphs">20</text>
<text x="349.2" y="587.0" font-size="12" fill="#131722" textLength="13.0" lengthAdjust="spacingAndGlyphs">23</text>
<text x="476.2" y="587.0" font-size="12" fill="#131722" textLength="13.0" lengthAdjust="spacingAndGlyphs">27</text>
<text x="548.9" y="587.0" font-size="12" fill="#131722" textLength="28.6" lengthAdjust="spacingAndGlyphs">12:00</text>
<text x="738.5" y="587.0" font-size="12" fill="#131722" textLength="6.4" lengthAdjust="spacingAndGlyphs">4</text>
<text x="835.5" y="587.0" font-size="12" fill="#131722" textLength="6.4" lengthAdjust="spacingAndGlyphs">7</text>
<text x="929.2" y="587.0" font-size="12" fill="#131722" textLength="13.0" lengthAdjust="spacingAndGlyphs">10</text>
<text x="635.4" y="587.0" font-size="12" fill="#131722" font-weight="bold" textLength="17.8" lengthAdjust="spacingAndGlyphs">4월</text>
<text x="33.3" y="619.0" font-size="14" fill="#131722" textLength="69.3" lengthAdjust="spacingAndGlyphs">TradingView</text>
<path d="M10.2 609H17.7V618.7H14V612.3H10.2Z" fill="#131722"/><circle cx="20.9" cy="610.7" r="1.7" fill="#131722"/><path d="M23.8 609H29.2L25.2 618.7H19.8Z" fill="#131722"/>
</svg>
</body></html>
